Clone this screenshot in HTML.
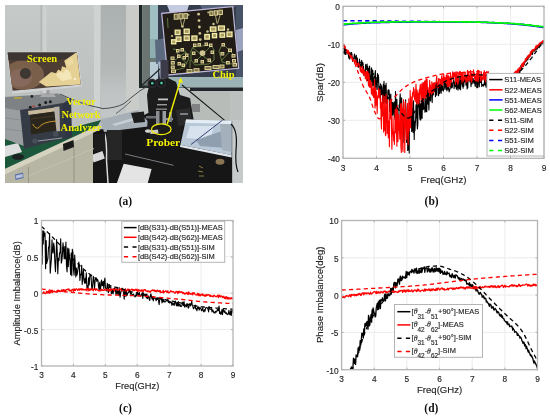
<!DOCTYPE html>
<html><head><meta charset="utf-8"><title>Figure</title>
<style>
html,body{margin:0;padding:0;background:#fff;}
body{width:550px;height:417px;overflow:hidden;position:relative;}
svg{position:absolute;left:0;top:0;display:block;}
</style></head><body>
<svg width="550" height="417" viewBox="0 0 550 417">
<defs>
<clipPath id="ph"><rect x="5" y="5" width="238" height="178"/></clipPath>
<filter id="bl" x="0" y="0" width="1" height="1"><feGaussianBlur stdDeviation="0.4"/></filter>
<linearGradient id="wallg" x1="0" y1="0" x2="0" y2="1"><stop offset="0" stop-color="#c5c9c8"/><stop offset="1" stop-color="#bcc0bf"/></linearGradient>
<linearGradient id="colg" x1="0" y1="0" x2="0" y2="1"><stop offset="0" stop-color="#abb1b0"/><stop offset="0.55" stop-color="#b3b8b7"/><stop offset="0.8" stop-color="#c0c4c4"/><stop offset="1" stop-color="#c2c6c6"/></linearGradient>
<linearGradient id="glass" x1="0" y1="0" x2="1" y2="0"><stop offset="0" stop-color="#c6d4e2"/><stop offset="0.55" stop-color="#dfe7ef"/><stop offset="1" stop-color="#a9b8c4"/></linearGradient>
</defs>
<g clip-path="url(#ph)">
<g filter="url(#bl)">
<!-- wall -->
<rect x="5" y="5" width="238" height="178" fill="#bcc0bf"/>
<rect x="5" y="5" width="96" height="100" fill="url(#wallg)"/>
<rect x="40.5" y="5" width="2" height="95" fill="#b1b5b4"/>
<rect x="42.5" y="5" width="4" height="95" fill="#cdd1d0"/>
<rect x="94" y="5" width="6" height="105" fill="#cfd3d2"/>
<rect x="101" y="5" width="25" height="112" fill="url(#colg)"/>
<rect x="126" y="5" width="13.5" height="112" fill="#caccca"/>
<!-- window -->
<rect x="139" y="5" width="3.2" height="84" fill="#1f2526"/>
<rect x="142.2" y="5" width="8" height="82" fill="#6b7572"/>
<rect x="150" y="5" width="12" height="34" fill="#9fbfc3"/>
<rect x="150" y="39" width="12" height="19" fill="#8dafaf"/>
<rect x="150" y="58" width="12" height="4" fill="#6a7876"/>
<rect x="150" y="62" width="12" height="17" fill="#b8cad4"/>
<rect x="139" y="85.5" width="22" height="2.5" fill="#23292a"/>
<!-- dark area behind chip -->
<rect x="158" y="5" width="85" height="76" fill="#353d4d"/>
<path d="M167 5 L189 5 L187 11 L170 12.8 Z" fill="#c4cbe0"/>
<path d="M200 5 L236 5 L234 8 L202 9 Z" fill="#59627a"/>
<rect x="236" y="5" width="7" height="82" fill="#4a5268"/>
<path d="M236 30 L243 28 L243 50 L237 52 Z" fill="#9aa2be"/>
<path d="M155 40 L166 38 L168 62 L156 64 Z" fill="#5c6a80"/>
<path d="M158 62 L168 60 L169 76 L160 78 Z" fill="#a8b6c8"/>
<!-- sill -->
<rect x="160" y="77" width="83" height="10.5" fill="#9bb3b5"/>
<rect x="158" y="87.5" width="85" height="3.5" fill="#22272b"/>
<rect x="190" y="91" width="53" height="30" fill="#b8bcb8"/>
<rect x="230" y="91" width="13" height="30" fill="#bcc0bf"/>
<rect x="232" y="121" width="11" height="62" fill="#c4c8c8"/>
<!-- middle wall below window -->
<rect x="139" y="88" width="51" height="30" fill="#c2c6c5"/>
<path d="M60 94 Q80 104 103 108.6 Q116 108 124 103.6 L132 97 Q140 90 148 86" stroke="#3a3e40" stroke-width="0.9" fill="none"/>
<path d="M116 113.6 Q124 108 131 101" stroke="#4a4e50" stroke-width="0.8" fill="none"/>
<!-- chip -->
<g transform="translate(161.7 13.4) rotate(-5.5)">
<rect x="0" y="0" width="71.3" height="61.9" fill="#201f18" stroke="#c0b8d8" stroke-width="1.2"/>
</g>
<g stroke="#6f8a45" stroke-width="0.8" fill="none">
<path d="M173 49 L185 51 L189 58 L184 68 L176 70 M175 60 L186 52 M176 52 L187 64"/>
<path d="M193 47 L211 45 L214 50 L214 60 L209 64 L195 65 L191 60 L191 51 Z M193 48 L212 63 M194 63 L211 46"/>
<path d="M222 45 L219 51 L222 62 L232 64 M224 45 L233 54 M222 60 L232 49"/>
<path d="M167.5 18 L168 28 M190 60 L190 68"/>
</g>
<g fill="#7a7048" stroke="#dccf94" stroke-width="1">
<rect x="174.2" y="14.2" width="3.8" height="5"/><rect x="179" y="13.8" width="3.8" height="5"/><rect x="183.8" y="13.6" width="3.6" height="4.8"/>
<rect x="209.8" y="11.2" width="3.2" height="4.3"/><rect x="214.3" y="10.8" width="3.2" height="4.3"/><rect x="218.8" y="10.2" width="3.6" height="4.3"/>
<rect x="171" y="57" width="3" height="2.6"/><rect x="171.3" y="61.5" width="3" height="2.6"/><rect x="171.3" y="66" width="3" height="2.6"/><rect x="171.5" y="70" width="4" height="2.4"/>
<rect x="176.5" y="49.5" width="2.5" height="2.5"/><rect x="181" y="48.5" width="2.5" height="2.5"/><rect x="177.5" y="55" width="2.5" height="2.5"/><rect x="183" y="56.5" width="2.5" height="2.5"/><rect x="178" y="62.5" width="2.5" height="2.5"/><rect x="182" y="64" width="2.5" height="2.5"/><rect x="185.5" y="54" width="2.5" height="2.5"/>
<rect x="187" y="69.5" width="5" height="3"/><rect x="194" y="68.7" width="5" height="3"/><rect x="205" y="66.5" width="6" height="3"/><rect x="213" y="65.5" width="6" height="3"/><rect x="220" y="65" width="4" height="3"/>
<rect x="193.5" y="44" width="2.5" height="2.5"/><rect x="198" y="43.5" width="2.5" height="2.5"/><rect x="205" y="43" width="2.5" height="2.5"/><rect x="209.5" y="44" width="2.5" height="2.5"/><rect x="192.5" y="52" width="2.5" height="2.5"/><rect x="211" y="51" width="2.5" height="2.5"/><rect x="195" y="59.5" width="2.5" height="2.5"/><rect x="201" y="60.5" width="2.5" height="2.5"/><rect x="208" y="59" width="2.5" height="2.5"/>
<rect x="222" y="43.5" width="2.5" height="2.5"/><rect x="221" y="52.5" width="2.8" height="2.5"/><rect x="228.5" y="49" width="3" height="2.5"/><rect x="232" y="54.5" width="3" height="2.6"/><rect x="232.5" y="59.5" width="3" height="2.6"/><rect x="233" y="63.5" width="3.5" height="2.6"/><rect x="226.5" y="61.5" width="2.8" height="2.5"/>
</g>
<g fill="#cfc390">
<circle cx="188.6" cy="14.8" r="0.9"/><circle cx="208.2" cy="12.4" r="0.9"/>
<circle cx="198.6" cy="14.2" r="1.4"/><circle cx="199" cy="20.6" r="1.4"/><circle cx="199.4" cy="27" r="1.4"/><circle cx="199.8" cy="33.4" r="1.4"/><circle cx="200.2" cy="39.6" r="1.4"/>
<circle cx="207.5" cy="31.5" r="1.2"/><circle cx="228" cy="29.5" r="1.2"/><circle cx="213.5" cy="24" r="1.2"/><circle cx="182.5" cy="26.5" r="1.2"/><circle cx="172" cy="36" r="1.1"/>
<circle cx="202.5" cy="53.1" r="2.9"/>
</g>
<g fill="#a89c62" stroke="#f4eca8" stroke-width="1.3">
<rect x="175.2" y="30.2" width="4.8" height="4.4"/><rect x="184.2" y="29.2" width="5" height="4.4"/><rect x="176.2" y="37" width="4.8" height="4.4"/><rect x="184.2" y="36" width="5" height="4.4"/><rect x="191.9" y="36" width="5" height="4.4"/><rect x="171.6" y="39.8" width="4.2" height="4"/>
<rect x="210.4" y="27" width="5.5" height="4.2"/><rect x="218.4" y="26" width="6" height="4.2"/><rect x="204.8" y="34.5" width="4.6" height="4.6"/><rect x="212.4" y="33.5" width="4.2" height="4.2"/><rect x="220" y="33" width="4.6" height="4.2"/><rect x="227" y="32" width="5" height="4.6"/>
</g>
<g stroke="#d0c48a" stroke-width="0.8" fill="none">
<path d="M180.5 19 L182 27 M185 18.5 L182.5 27 M215.5 15.5 L217 23.5 M220.2 14.6 L217.6 23.5"/>
</g>
<!-- microscope -->
<path d="M160.5 60 L168.5 60 L168.5 78 L160.5 78 Z" fill="#3c3a4a"/>
<path d="M141 86 L160 69" stroke="#1e2224" stroke-width="1.1"/>
<path d="M147 95 L149 86 L157 79 L168 78 L176 82 L180 95 L190 98 L195 128 L150 132 Z" fill="#1b1b1e"/>
<circle cx="152.2" cy="83.4" r="4.6" fill="#2c2c30"/><circle cx="152.2" cy="83.4" r="3.2" fill="#18181a"/>
<circle cx="161.4" cy="83.2" r="4.6" fill="#2c2c30"/><circle cx="161.4" cy="83.2" r="3.2" fill="#18181a"/>
<circle cx="152.3" cy="83.3" r="1.3" fill="#45d0a0"/>
<circle cx="161.5" cy="83.1" r="1.3" fill="#45d0a0"/>
<rect x="158" y="98.5" width="10" height="1.8" fill="#c8c8c8"/>
<rect x="157" y="104" width="10" height="1.4" fill="#9a9a9a"/>
<rect x="156" y="108.5" width="11" height="1.4" fill="#8a8a8a"/>
<rect x="192" y="104" width="8" height="8" fill="#808284"/>
<!-- cable diagonal -->
<path d="M182 85 L224.4 120.2 L207 134" stroke="#151515" stroke-width="1.1" fill="none"/>
<!-- prober lower body -->
<path d="M93 131 L128 124 L148 113 L186 119.5 L232.5 121 L232.5 183 L93 183 Z" fill="#131315"/>
<path d="M100 120 L138 110 L152 126 L104 132 Z" fill="#a6aeb6"/>
<path d="M112 124 L136 117 L139 119 L115 126 Z" fill="#c4ccd4"/>
<path d="M131 113 L144 111.5 L145 122 L134 123 Z" fill="#1b1b1d"/>
<path d="M148 113 L170 115 L184 121 L180 140 L150 142 L147 130 Z" fill="#1c1c1e"/>
<rect x="146" y="116" width="12" height="2.5" fill="#6a6f74"/>
<rect x="163" y="118" width="10" height="2.2" fill="#8a9098"/>
<ellipse cx="148" cy="131" rx="3" ry="1.8" fill="#d0d0d0"/>
<rect x="156" y="111" width="3.5" height="13" fill="#8a8e92"/>
<rect x="162.5" y="111" width="3.5" height="13" fill="#9a9ea2"/>
<rect x="169" y="112" width="3" height="10" fill="#7a7e84"/>
<path d="M150 130.5 L158 129.5 L158.5 133.5 L150.5 134 Z" fill="#c8c8c8"/>
<path d="M176 110 L190 108 L192 124 L178 126 Z" fill="#2a2a2c"/>
<rect x="180" y="113" width="8" height="2" fill="#7a7e84"/>
<!-- glass plate -->
<path d="M186 119.6 L231.6 120.8 L231.6 155 L180.4 144.7 Z" fill="#b9c8d6"/>
<path d="M186 119.6 L231.6 120.8 L231.4 124 L185.5 122.8 Z" fill="#e4ecf4"/>
<path d="M190 126 L214 126 L210 140 L186 138 Z" fill="#d8e2ee"/>
<path d="M196 140 L222 131 L226 148 L200 146 Z" fill="#8f9fb0"/>
<path d="M220 124 L231.5 124 L231.5 152 L222 150 Z" fill="#a4b0bc"/>
<path d="M180.4 144.7 L231.6 155 L231.6 157.5 L180 147 Z" fill="#dfe6ee"/>
<path d="M191 144.5 L222.3 120.3" stroke="#24306a" stroke-width="0.9"/>
<path d="M232.3 120 L243 120 L243 183 L232.3 183 Z" fill="#c6caca"/>
<path d="M231 124 Q238 130 236 150 Q235 165 238 172" stroke="#111" stroke-width="1.2" fill="none"/>
<ellipse cx="220" cy="161.7" rx="4.5" ry="3" fill="#8a7455"/>
<path d="M199 166 L203 168 M198 171 L203 172 M199 176 L204 176" stroke="#a89a50" stroke-width="0.8"/>
<!-- white paper / cylinder / cable -->
<path d="M123.7 163.8 L151.6 169 L147.8 183 L116.9 183 Z" fill="#e4e4e4"/>
<path d="M125 154 L173.5 165.3" stroke="#7a7e82" stroke-width="1"/>
<rect x="107" y="130" width="15" height="30" fill="#262628"/>
<path d="M104.5 133 Q107 140 106.5 160 L108 183" stroke="#dadada" stroke-width="1.5" fill="none"/>
<path d="M91.5 155 L102.5 151 L104.8 158.5 L93.5 162.5 Z" fill="#d8d8d8"/>
<!-- left cabinet / bench -->
<path d="M5 172 L93 131 L93 183 L5 183 Z" fill="#b7b5a3"/>
<path d="M5 168.8 L98 125.5 L98 130.5 L5 174.5 Z" fill="#d6d2c0"/>
<path d="M28.5 167 L28.5 183 M74 147 L74 183" stroke="#8e8c7c" stroke-width="0.8"/>
<path d="M28.5 176 L100 146" stroke="#c2c0ae" stroke-width="1"/>
<path d="M63 144 L73.5 140 L74 147 L63.5 151 Z" fill="#1a1a1a"/>
<path d="M15 174.5 L23 172.5 L23.5 178 L15.5 180 Z" fill="#5a70a8"/>
<path d="M16 175.5 L22.5 174 L22.7 177 L16.2 178.5 Z" fill="#b8c4e0"/>
<path d="M93.5 133.8 L105 133 L105 151 L94 151 Z" fill="#1a1a1a"/>
<!-- green mat -->
<path d="M5 137 L60 131 L101 120 L98 125.5 L5 168.8 Z" fill="#1f573a"/>
<path d="M5 146 L18 143 L22 152 L5 157 Z" fill="#dedede"/>
<ellipse cx="18" cy="156.8" rx="6" ry="3" fill="#1e2022"/>
<!-- VNA -->
<path d="M58 99 L71 98 L72 137 L60 140 Z" fill="#2d3444"/>
<path d="M5 97 L58 93.5 L70 99 L62 104 L22 111 L5 110 Z" fill="#7e8285"/>
<path d="M5 108 L22 111 L24 146 L5 139 Z" fill="#9a9ea0"/>
<path d="M5 118 L21 120 M5 129 L22 131" stroke="#80868a" stroke-width="0.7"/>
<path d="M20 110 L63 103 L65 138 L24 149 Z" fill="#353b45"/>
<path d="M28 111 L55.7 107.5 L56 111.5 L28.5 115 Z" fill="#c8b89c"/>
<path d="M30 115 L54 111.5 L56.5 130.5 L31 134.5 Z" fill="#2b251e"/>
<path d="M54 107 L59.5 106.5 L60 131 L56.5 131.5 Z" fill="#b4b0a6"/>
<path d="M32.6 124 Q36 130 39 127.5 Q42 122 56 121" stroke="#d8a030" stroke-width="0.9" fill="none"/>
<path d="M31 119 L54 116" stroke="#5a4a30" stroke-width="0.5"/>
<circle cx="31.9" cy="96.4" r="1.3" fill="#1a1a1a"/>
<circle cx="30.3" cy="107.2" r="1.5" fill="#1a1a1a"/><circle cx="39.6" cy="104.9" r="1.5" fill="#1a1a1a"/><circle cx="45.7" cy="102.6" r="1.5" fill="#1a1a1a"/><circle cx="50.3" cy="101.8" r="1.5" fill="#1a1a1a"/>
<rect x="32.3" y="105.6" width="2.6" height="1.6" fill="#b04040"/>
<circle cx="35" cy="141" r="2.6" fill="#4a5058"/>
<circle cx="55.7" cy="134" r="2.6" fill="#4a5058"/>
<path d="M38 141 L62 138" stroke="#b0b8c0" stroke-width="0.8"/>
<rect x="14.2" y="97" width="7.7" height="1.8" fill="#b0a040"/>
<!-- monitor -->
<path d="M43 93 L53 93 L56 97 L40 97 Z" fill="#a8aaac"/>
<rect x="46.5" y="89" width="3" height="6" fill="#9a9c9e"/>
<path d="M6.5 51.5 L77.7 51.5 L82.1 86.5 L12.3 93.7 Z" fill="#cfd1d3"/>
<path d="M7.6 52.6 L76.8 52.6 L80.8 84.6 L12.6 90.8 Z" fill="#4d3e33"/>
<clipPath id="scr"><path d="M7.6 52.6 L76.8 52.6 L80.8 84.6 L12.6 90.8 Z"/></clipPath>
<g clip-path="url(#scr)"><ellipse cx="24" cy="75" rx="20" ry="15" fill="#7a5e4c"/><ellipse cx="20" cy="78" rx="12" ry="9" fill="#86695a"/><path d="M7 52 L78 52 L78 58 Q40 62 7 60 Z" fill="#3e3430"/></g>
<circle cx="25.4" cy="73.4" r="5.5" fill="#3d3733"/>
<path d="M38.8 81.9 L51.2 72.1 L56 73.2 L58.2 69.4 L60.9 71 L62 66.2 L66.3 67.8 L64.2 60.8 L75 53.2 L76.8 52.6 L80.7 84.5 L46 86.6 Z" fill="#e6d194"/>
<path d="M56 75 L60 71.5 L63 73 L66 69 L70 72 L72 79 L62 81 Z" fill="#f3e6b8"/>
<path d="M66 62 L72 57 L74 63 L69 66 Z" fill="#ecd9a0"/>
<circle cx="75" cy="79" r="1.3" fill="#f6eed0"/>
</g>
<!-- annotations -->
<g fill="none" stroke="#f4f000">
<ellipse cx="161.3" cy="129.2" rx="9.8" ry="5.4" stroke-width="1.2"/>
<path d="M167.2 124.2 L180.3 80.5" stroke-width="1.4"/>
</g>
<path d="M180.9 77.5 L183 83 L178.2 81.6 Z" fill="#f4f000"/>
<g font-family="'Liberation Serif', 'Times New Roman', serif" font-weight="bold" fill="#f2f000" font-size="10.5">
<text x="42.1" y="61.7" text-anchor="middle">Screen</text>
<text x="81" y="105.3" text-anchor="middle">Vector</text>
<text x="81" y="118.1" text-anchor="middle">Network</text>
<text x="81" y="130.6" text-anchor="middle">Analyzer</text>
<text x="223.5" y="77.6" text-anchor="middle">Chip</text>
<text x="163.2" y="145.5" text-anchor="middle" font-size="11.4">Prober</text>
</g>
</g>

<g font-family="'Liberation Sans', Arial, Helvetica, sans-serif" font-size="8.3" fill="#262626" stroke="#262626" stroke-width="0.15">
<path d="M376.5 6.3V158.3M410 6.3V158.3M443.5 6.3V158.3M477 6.3V158.3M510.5 6.3V158.3M343 44.3H544M343 82.3H544M343 120.3H544" stroke="#ececec" stroke-width="1" fill="none"/>
<clipPath id="cb"><rect x="343" y="6.3" width="201" height="152"/></clipPath>
<g clip-path="url(#cb)">
<polyline points="343,51.6 343.4,53.2 343.7,52.8 344.1,50.1 344.4,50.6 344.8,54.1 345.2,49.3 345.5,54.3 345.9,54.5 346.2,52.7 346.6,51.8 347,51.8 347.3,51.9 347.7,53.4 348,54.1 348.4,54.7 348.8,58.3 349.1,57 349.5,56 349.8,59.2 350.2,53.3 350.6,53 350.9,57.1 351.3,52.5 351.6,52.6 352,57.1 352.3,56.9 352.7,61.4 353.1,59 353.4,58.2 353.8,58.4 354.1,56.2 354.5,54.1 354.9,56.2 355.2,61.7 355.6,56.9 355.9,59 356.3,55.3 356.7,64.8 357,57.6 357.4,59.2 357.7,66.7 358.1,62.7 358.5,67.1 358.8,65.1 359.2,66.7 359.5,59 359.9,65 360.3,65 360.6,70.1 361,63.8 361.3,67.3 361.7,60.3 362.1,65.1 362.4,64.6 362.8,62.4 363.1,72.3 363.5,66.3 363.9,75.6 364.2,70.1 364.6,70.7 364.9,71.6 365.3,72.6 365.7,64.2 366,69.4 366.4,66.2 366.7,69.3 367.1,64 367.5,80.6 367.8,66.6 368.2,75.8 368.5,68.8 368.9,80.6 369.2,76.7 369.6,66.1 370,81.2 370.3,83.6 370.7,83.2 371,76.6 371.4,67.9 371.8,69.3 372.1,85.6 372.5,78 372.8,70.4 373.2,86.2 373.6,81.4 373.9,80.3 374.3,76.6 374.6,77.9 375,74.6 375.4,70.6 375.7,89.9 376.1,81.4 376.4,83.7 376.8,79.2 377.2,89.5 377.5,73.6 377.9,82 378.2,74.8 378.6,77.4 379,97.4 379.3,90.8 379.7,86.1 380,88.8 380.4,97.5 380.8,85.7 381.1,92 381.5,94.7 381.8,87.4 382.2,91.8 382.6,98.1 382.9,102.1 383.3,84.2 383.6,103.6 384,81.3 384.4,100.1 384.7,101.9 385.1,85.5 385.4,93 385.8,103.3 386.1,83.4 386.5,99.4 386.9,104.1 387.2,97.2 387.6,103.2 387.9,90.4 388.3,89.9 388.7,94.7 389,90 389.4,94.9 389.7,111.8 390.1,101.9 390.5,95.7 390.8,94.1 391.2,113.9 391.5,99.7 391.9,115.8 392.3,102.6 392.6,103.1 393,114.9 393.3,110.7 393.7,106.2 394.1,101.9 394.4,116.6 394.8,102.2 395.1,119.5 395.5,91.6 395.9,104.2 396.2,107.8 396.6,123.7 396.9,99.2 397.3,120.2 397.7,116 398,118.3 398.4,115.6 398.7,130.1 399.1,104.8 399.5,108 399.8,100.2 400.2,93.9 400.5,101.3 400.9,133.4 401.3,130.8 401.6,97.8 402,121.3 402.3,115.9 402.7,122.1 403,125.8 403.4,109 403.8,142.3 404.1,118.1 404.5,127.1 404.8,128.3 405.2,105.6 405.6,99.8 405.9,119 406.3,138.7 406.6,142.5 407,138.7 407.4,105.4 407.7,150.5 408.1,145 408.4,149.9 408.8,130.4 409.2,153.1 409.5,103.9 409.9,103 410.2,102.4 410.6,115.5 411,115.1 411.3,111.4 411.7,131.5 412,102.8 412.4,130.7 412.8,108.6 413.1,132.5 413.5,100.9 413.8,113.4 414.2,139.4 414.6,121.2 414.9,130.8 415.3,123.6 415.6,120.7 416,104.8 416.4,117.7 416.7,98.8 417.1,124.3 417.4,128.9 417.8,124.8 418.2,98 418.5,106.9 418.9,105.8 419.2,98.9 419.6,114.6 419.9,119.3 420.3,103.9 420.7,120.1 421,117.5 421.4,97 421.7,115.5 422.1,118.4 422.5,97.8 422.8,108.3 423.2,109.6 423.5,108.3 423.9,93.2 424.3,108.8 424.6,107.5 425,112.3 425.3,111.3 425.7,97.8 426.1,108.1 426.4,111.5 426.8,111.7 427.1,92 427.5,88.2 427.9,104 428.2,92.4 428.6,100.9 428.9,110 429.3,95.5 429.7,92.1 430,96.6 430.4,101 430.7,87.5 431.1,93.7 431.5,87.7 431.8,99.3 432.2,102.6 432.5,92.1 432.9,91.7 433.3,94.9 433.6,87.7 434,88.1 434.3,89.4 434.7,91.7 435.1,83.9 435.4,96.7 435.8,93 436.1,87.3 436.5,82.9 436.8,95.2 437.2,83.4 437.6,83.2 437.9,83 438.3,81.9 438.6,95.8 439,84.7 439.4,85.1 439.7,93.5 440.1,89.8 440.4,82.5 440.8,86.3 441.2,93.2 441.5,85 441.9,90 442.2,80.4 442.6,89.9 443,90.5 443.3,91.1 443.7,88.7 444,84 444.4,79.3 444.8,86 445.1,89.5 445.5,80.9 445.8,81.9 446.2,85.9 446.6,88.9 446.9,91 447.3,79.5 447.6,80.3 448,89.3 448.4,86.9 448.7,88 449.1,91.9 449.4,91 449.8,89.5 450.2,88.5 450.5,82.8 450.9,86.3 451.2,79.6 451.6,87.9 451.9,87.8 452.3,87.2 452.7,83.2 453,82.1 453.4,82.7 453.7,77.1 454.1,88.7 454.5,84.3 454.8,82 455.2,84.2 455.5,86.7 455.9,81.8 456.3,88.1 456.6,89.3 457,81.7 457.3,78.1 457.7,86.9 458.1,90.1 458.4,78.1 458.8,86.1 459.1,87.6 459.5,88.9 459.9,77.6 460.2,77.1 460.6,89.7 460.9,77.4 461.3,78.2 461.7,83.7 462,81.9 462.4,86.1 462.7,78.3 463.1,88.3 463.5,78.6 463.8,86.2 464.2,76.4 464.5,82 464.9,75.8 465.3,79.7 465.6,79.6 466,85.2 466.3,81.5 466.7,76 467.1,88.9 467.4,87.4 467.8,87.7 468.1,78.5 468.5,80.5 468.8,78.2 469.2,76.7 469.6,75.5 469.9,81.8 470.3,76.6 470.6,77.3 471,86.6 471.4,81.5 471.7,77.4 472.1,83.9 472.4,78.4 472.8,81.9 473.2,78.6 473.5,81.7 473.9,83.2 474.2,82 474.6,80.1 475,85.3 475.3,86.4 475.7,77.1 476,76.5 476.4,76.2 476.8,87.7 477.1,87.2 477.5,77.8 477.8,87.6 478.2,77.5 478.6,81.4 478.9,81.3 479.3,86.8 479.6,75.4 480,79 480.4,82.7 480.7,75.8 481.1,78.1 481.4,81 481.8,86.4 482.2,84.9 482.5,85.8 482.9,85 483.2,84.3 483.6,86.1 484,84 484.3,84.8 484.7,79.3 485,77.7 485.4,85.1 485.7,77.8 486.1,87.2 486.5,83.3 486.8,80 487.2,87.5 487.5,78 487.9,82.4 488.3,77.3 488.6,87.9 489,83.3 489.3,86 489.7,79.8 490.1,86 490.4,84.9 490.8,84.2 491.1,87.8 491.5,81.8 491.9,81.6 492.2,84.9 492.6,86.5 492.9,80.8 493.3,84.6 493.7,79.4 494,83.3 494.4,85.7 494.7,77.8 495.1,85.3 495.5,77.3 495.8,87.8 496.2,82.4 496.5,81.7 496.9,85.2 497.3,83 497.6,85.3 498,78.2 498.3,83.4 498.7,83.4 499.1,87.5 499.4,77.8 499.8,82.3 500.1,84.2 500.5,83.3 500.9,78.2 501.2,83.8 501.6,79.8 501.9,79.6 502.3,86.8 502.6,79.6 503,82.3 503.4,85.4 503.7,84.9 504.1,83.3 504.4,85.9 504.8,82.4 505.2,84 505.5,86 505.9,84.6 506.2,84.2 506.6,81.8 507,83.3 507.3,81.7 507.7,85.1 508,81.5 508.4,82.3 508.8,85.1 509.1,82.6 509.5,81 509.8,85.7 510.2,81.4 510.6,85.8 510.9,85.1 511.3,81.7 511.6,84 512,77.4 512.4,80.3 512.7,84.1 513.1,81.1 513.4,80.4 513.8,80.8 514.2,80.3 514.5,78.9 514.9,77 515.2,74.4 515.6,74.7 516,74.2 516.3,74.7 516.7,78.6 517,73 517.4,73.3 517.8,72.2 518.1,73.3 518.5,75.4 518.8,74.4 519.2,70.2 519.5,68.9 519.9,72.6 520.3,69.3 520.6,70 521,65.4 521.3,70 521.7,65.9 522.1,66.5 522.4,64.1 522.8,64.9 523.1,66.8 523.5,66.2 523.9,63.5 524.2,64.7 524.6,62.4 524.9,61.4 525.3,61.8 525.7,59.4 526,59.6 526.4,61.1 526.7,60.9 527.1,56.9 527.5,59.8 527.8,59.8 528.2,57.5 528.5,55.3 528.9,57.8 529.3,55.3 529.6,56.7 530,55.1 530.3,55.8 530.7,53.8 531.1,54.3 531.4,54.1 531.8,54.1 532.1,52 532.5,54.5 532.9,51.5 533.2,51.2 533.6,50.6 533.9,49.6 534.3,50.5 534.7,51.3 535,50.7 535.4,48.6 535.7,48 536.1,48.3 536.4,49.3 536.8,48.1 537.2,49 537.5,47.8 537.9,47.4 538.2,47.4 538.6,47 539,45.6 539.3,45.1 539.7,45.2 540,45 540.4,43.9 540.8,44.3 541.1,44.4 541.5,43 541.8,42.7 542.2,42.5 542.6,42.5 542.9,43.6 543.3,41.4 543.6,41.5 544,41.2" fill="none" stroke="#000" stroke-width="1.1" stroke-linejoin="round"/>
<polyline points="343,45.9 343.4,44.8 343.7,46.7 344.1,46.2 344.4,47 344.8,49.2 345.2,47.5 345.5,49.5 345.9,49.3 346.2,49.7 346.6,51.7 347,49.6 347.3,53 347.7,53.4 348,53 348.4,50.8 348.8,54 349.1,54.2 349.5,55.4 349.8,53.3 350.2,57.2 350.6,57.4 350.9,54 351.3,55.5 351.6,54.4 352,59.1 352.3,60 352.7,60.9 353.1,59.4 353.4,60.2 353.8,60.7 354.1,60.6 354.5,63.2 354.9,61.7 355.2,60.5 355.6,62.1 355.9,59.2 356.3,64.3 356.7,64.6 357,63.4 357.4,66.6 357.7,66.5 358.1,64.2 358.5,62.7 358.8,63.5 359.2,64.4 359.5,65.7 359.9,67.2 360.3,71.2 360.6,66.8 361,72 361.3,70.9 361.7,72.7 362.1,69.6 362.4,66.3 362.8,73.7 363.1,69.5 363.5,68.9 363.9,75.3 364.2,74.8 364.6,70.7 364.9,71.7 365.3,79 365.7,72.6 366,78 366.4,71.6 366.7,80.9 367.1,72.2 367.5,78.5 367.8,71.4 368.2,80.5 368.5,85.9 368.9,73.4 369.2,77.6 369.6,87.3 370,85.3 370.3,80.2 370.7,87.4 371,84.6 371.4,94.1 371.8,82.4 372.1,93.9 372.5,92.1 372.8,95.6 373.2,87.5 373.6,97.3 373.9,97.6 374.3,90.2 374.6,79.7 375,108.1 375.4,102.3 375.7,87.7 376.1,105.2 376.4,91.7 376.8,99.1 377.2,113.2 377.5,100.4 377.9,95.5 378.2,97 378.6,88.2 379,95.1 379.3,98 379.7,94.4 380,89.9 380.4,108.3 380.8,98.1 381.1,120.9 381.5,129 381.8,102.6 382.2,116.3 382.6,114.1 382.9,94.7 383.3,97.7 383.6,132.1 384,115 384.4,130.1 384.7,96.3 385.1,122.2 385.4,134.9 385.8,135.7 386.1,94.1 386.5,121.2 386.9,114.4 387.2,133.5 387.6,99.5 387.9,110.4 388.3,137.7 388.7,121.5 389,121.1 389.4,146.7 389.7,114.6 390.1,98.7 390.5,118.8 390.8,105.7 391.2,101.4 391.5,128.9 391.9,149.2 392.3,130.2 392.6,134.2 393,116.5 393.3,130.7 393.7,140.9 394.1,132.3 394.4,144.4 394.8,130.6 395.1,109.6 395.5,132.8 395.9,127.6 396.2,107.7 396.6,135.1 396.9,146.3 397.3,105.6 397.7,130.8 398,141.6 398.4,122.5 398.7,114.4 399.1,120.7 399.5,130.7 399.8,139.1 400.2,131.8 400.5,103.9 400.9,146.5 401.3,152.4 401.6,103.6 402,113.3 402.3,108.5 402.7,148.4 403,151.8 403.4,99.6 403.8,118.5 404.1,109.8 404.5,126.8 404.8,152.5 405.2,101.5 405.6,108.2 405.9,126.9 406.3,128.3 406.6,139.4 407,121.4 407.4,103.4 407.7,114.6 408.1,144.7 408.4,131.9 408.8,98.8 409.2,131.1 409.5,107 409.9,126.9 410.2,90.5 410.6,127.7 411,96.9 411.3,108.5 411.7,115.2 412,108.1 412.4,94 412.8,92.2 413.1,96.9 413.5,87.5 413.8,93 414.2,89.4 414.6,99.6 414.9,95.6 415.3,101.8 415.6,92.4 416,84.1 416.4,93 416.7,103.9 417.1,90.1 417.4,93.8 417.8,102.3 418.2,93.1 418.5,104.5 418.9,104.8 419.2,89.7 419.6,99.6 419.9,87.6 420.3,84.4 420.7,91.6 421,95.1 421.4,102.1 421.7,83.8 422.1,96.6 422.5,91.1 422.8,82.8 423.2,100.9 423.5,94.9 423.9,82.2 424.3,98.5 424.6,81.3 425,80.8 425.3,86 425.7,97.9 426.1,78.9 426.4,96.9 426.8,90.8 427.1,79.3 427.5,89.5 427.9,87.2 428.2,89 428.6,92 428.9,90.7 429.3,96.1 429.7,80.4 430,92.4 430.4,85 430.7,91.5 431.1,93.1 431.5,94.5 431.8,81.7 432.2,84.9 432.5,93 432.9,92.9 433.3,83 433.6,92.3 434,83.3 434.3,82.6 434.7,88.8 435.1,83.9 435.4,83.4 435.8,82.2 436.1,82.8 436.5,77.6 436.8,76 437.2,87.5 437.6,84.4 437.9,85.9 438.3,87.7 438.6,78.5 439,78.5 439.4,79.1 439.7,79.4 440.1,86.3 440.4,80.3 440.8,79.4 441.2,84.1 441.5,77 441.9,75.6 442.2,84.6 442.6,85.3 443,78.4 443.3,83.3 443.7,73.9 444,79.8 444.4,82.2 444.8,77.3 445.1,78.7 445.5,82.4 445.8,82 446.2,75.5 446.6,83.4 446.9,74.1 447.3,86.8 447.6,76 448,76.7 448.4,75.8 448.7,86.6 449.1,76.9 449.4,81.4 449.8,86.3 450.2,85.7 450.5,72.9 450.9,79.9 451.2,80.9 451.6,82.2 451.9,77.1 452.3,77 452.7,71.9 453,72.4 453.4,79.8 453.7,73 454.1,74.9 454.5,76.7 454.8,72.8 455.2,72.1 455.5,84.2 455.9,77.8 456.3,74.6 456.6,81.3 457,71.5 457.3,75 457.7,84.2 458.1,83.4 458.4,80 458.8,72.6 459.1,75.8 459.5,71.5 459.9,74.3 460.2,71.4 460.6,72.9 460.9,79.6 461.3,72.5 461.7,73.2 462,82.7 462.4,75.6 462.7,75.5 463.1,72 463.5,81.2 463.8,79.7 464.2,78 464.5,78.9 464.9,72 465.3,74.2 465.6,78.3 466,82.7 466.3,81 466.7,78.8 467.1,77.3 467.4,70.3 467.8,81.7 468.1,71.1 468.5,72 468.8,79.2 469.2,80.6 469.6,80.2 469.9,76.1 470.3,72.4 470.6,70.3 471,80.8 471.4,82.2 471.7,73.2 472.1,80.8 472.4,75.2 472.8,74 473.2,76.4 473.5,69.7 473.9,75.6 474.2,72.4 474.6,78.8 475,76.2 475.3,80.5 475.7,80.8 476,73.9 476.4,73.4 476.8,81.2 477.1,76.1 477.5,70.9 477.8,70.2 478.2,81.7 478.6,77 478.9,70.4 479.3,76.2 479.6,76.2 480,75.4 480.4,81.3 480.7,81.3 481.1,71.6 481.4,72 481.8,75.2 482.2,80.1 482.5,77.7 482.9,79 483.2,77.3 483.6,73 484,80 484.3,70.5 484.7,78.8 485,73.1 485.4,76.4 485.7,81.9 486.1,77.3 486.5,71.6 486.8,76.2 487.2,78.8 487.5,71.9 487.9,74.4 488.3,71.6 488.6,77.9 489,76.3 489.3,77.8 489.7,75.7 490.1,79.7 490.4,74.6 490.8,82.7 491.1,83.4 491.5,78.8 491.9,78.7 492.2,82.9 492.6,77.1 492.9,82.7 493.3,77.5 493.7,82.2 494,78.4 494.4,81.4 494.7,84.8 495.1,75.6 495.5,83.9 495.8,81.3 496.2,79.7 496.5,79.5 496.9,76.4 497.3,78.6 497.6,82.5 498,76.9 498.3,83 498.7,85.9 499.1,86.1 499.4,85.2 499.8,84.5 500.1,78.2 500.5,86.1 500.9,78.5 501.2,85.1 501.6,85.2 501.9,82.8 502.3,81.9 502.6,78.7 503,81.9 503.4,79.7 503.7,78 504.1,78 504.4,84.6 504.8,85.6 505.2,78.2 505.5,76.8 505.9,79.5 506.2,78.2 506.6,78.7 507,82.5 507.3,81 507.7,81 508,78.7 508.4,82.8 508.8,79.2 509.1,80.1 509.5,80.4 509.8,83.9 510.2,77.9 510.6,81.8 510.9,78 511.3,82.6 511.6,78.1 512,78.8 512.4,81.5 512.7,79.6 513.1,74.3 513.4,74.3 513.8,81 514.2,72.6 514.5,74.7 514.9,79.4 515.2,71.3 515.6,72.2 516,72.3 516.3,70.7 516.7,73.4 517,73.8 517.4,71.2 517.8,69.1 518.1,73.8 518.5,73.2 518.8,71 519.2,67.4 519.5,69.8 519.9,69.9 520.3,68 520.6,70.3 521,66.8 521.3,67 521.7,63.8 522.1,66.2 522.4,66.8 522.8,66 523.1,62.5 523.5,66.1 523.9,64 524.2,61.8 524.6,61.1 524.9,62.5 525.3,58.6 525.7,60.6 526,60.4 526.4,58.8 526.7,60 527.1,57.6 527.5,57.2 527.8,55.8 528.2,58.3 528.5,55.1 528.9,56.4 529.3,54.7 529.6,56.4 530,56 530.3,51.7 530.7,55.2 531.1,53.3 531.4,50.7 531.8,52 532.1,49.8 532.5,51.4 532.9,49.6 533.2,49.9 533.6,49.3 533.9,49.9 534.3,50.2 534.7,50.2 535,47.9 535.4,48.3 535.7,46 536.1,46.9 536.4,48.2 536.8,45.4 537.2,47.2 537.5,46.3 537.9,45 538.2,45.9 538.6,44.3 539,45.5 539.3,43.1 539.7,43 540,44.2 540.4,43.2 540.8,42.2 541.1,42.8 541.5,42 541.8,42.3 542.2,42.4 542.6,42.4 542.9,40.5 543.3,41.4 543.6,41.9 544,40.7" fill="none" stroke="#ff0000" stroke-width="1.1" stroke-linejoin="round"/>
<polyline points="343,24.9 343.4,24.9 343.7,24.8 344.1,24.8 344.4,24.8 344.8,24.7 345.2,24.7 345.5,24.6 345.9,24.6 346.2,24.6 346.6,24.5 347,24.5 347.3,24.4 347.7,24.4 348,24.4 348.4,24.3 348.8,24.3 349.1,24.3 349.5,24.2 349.8,24.2 350.2,24.2 350.6,24.1 350.9,24.1 351.3,24.1 351.6,24 352,24 352.3,24 352.7,23.9 353.1,23.9 353.4,23.9 353.8,23.8 354.1,23.8 354.5,23.8 354.9,23.7 355.2,23.7 355.6,23.7 355.9,23.7 356.3,23.6 356.7,23.6 357,23.6 357.4,23.6 357.7,23.5 358.1,23.5 358.5,23.5 358.8,23.5 359.2,23.4 359.5,23.4 359.9,23.4 360.3,23.4 360.6,23.3 361,23.3 361.3,23.3 361.7,23.3 362.1,23.3 362.4,23.2 362.8,23.2 363.1,23.2 363.5,23.2 363.9,23.2 364.2,23.1 364.6,23.1 364.9,23.1 365.3,23.1 365.7,23.1 366,23.1 366.4,23 366.7,23 367.1,23 367.5,23 367.8,23 368.2,22.9 368.5,22.9 368.9,22.9 369.2,22.9 369.6,22.9 370,22.9 370.3,22.9 370.7,22.8 371,22.8 371.4,22.8 371.8,22.8 372.1,22.8 372.5,22.8 372.8,22.8 373.2,22.7 373.6,22.7 373.9,22.7 374.3,22.7 374.6,22.7 375,22.7 375.4,22.7 375.7,22.7 376.1,22.7 376.4,22.6 376.8,22.6 377.2,22.6 377.5,22.6 377.9,22.6 378.2,22.6 378.6,22.6 379,22.6 379.3,22.6 379.7,22.6 380,22.6 380.4,22.5 380.8,22.5 381.1,22.5 381.5,22.5 381.8,22.5 382.2,22.5 382.6,22.5 382.9,22.5 383.3,22.5 383.6,22.5 384,22.5 384.4,22.5 384.7,22.4 385.1,22.4 385.4,22.4 385.8,22.4 386.1,22.4 386.5,22.4 386.9,22.4 387.2,22.4 387.6,22.4 387.9,22.4 388.3,22.4 388.7,22.4 389,22.4 389.4,22.4 389.7,22.3 390.1,22.3 390.5,22.3 390.8,22.3 391.2,22.3 391.5,22.3 391.9,22.3 392.3,22.3 392.6,22.3 393,22.3 393.3,22.3 393.7,22.3 394.1,22.3 394.4,22.3 394.8,22.3 395.1,22.3 395.5,22.2 395.9,22.2 396.2,22.2 396.6,22.2 396.9,22.2 397.3,22.2 397.7,22.2 398,22.2 398.4,22.2 398.7,22.2 399.1,22.2 399.5,22.2 399.8,22.2 400.2,22.2 400.5,22.2 400.9,22.2 401.3,22.2 401.6,22.2 402,22.2 402.3,22.1 402.7,22.1 403,22.1 403.4,22.1 403.8,22.1 404.1,22.1 404.5,22.1 404.8,22.1 405.2,22.1 405.6,22.1 405.9,22.1 406.3,22.1 406.6,22.1 407,22.1 407.4,22.1 407.7,22.1 408.1,22.1 408.4,22.1 408.8,22.1 409.2,22.1 409.5,22.1 409.9,22.1 410.2,22.1 410.6,22.1 411,22.1 411.3,22.1 411.7,22.1 412,22.1 412.4,22 412.8,22 413.1,22 413.5,22 413.8,22 414.2,22 414.6,22 414.9,22 415.3,22 415.6,22 416,22 416.4,22 416.7,22 417.1,22 417.4,22 417.8,22 418.2,22 418.5,22 418.9,22 419.2,22 419.6,22 419.9,22 420.3,22 420.7,22 421,22 421.4,22 421.7,22 422.1,22 422.5,22 422.8,22 423.2,22 423.5,22 423.9,22 424.3,22 424.6,22 425,22 425.3,21.9 425.7,21.9 426.1,21.9 426.4,21.9 426.8,21.9 427.1,21.9 427.5,21.9 427.9,21.9 428.2,21.9 428.6,21.9 428.9,21.9 429.3,21.9 429.7,21.9 430,21.9 430.4,21.9 430.7,21.9 431.1,21.9 431.5,21.9 431.8,21.9 432.2,21.9 432.5,21.9 432.9,21.9 433.3,21.9 433.6,21.9 434,21.9 434.3,21.9 434.7,21.9 435.1,21.9 435.4,21.9 435.8,21.9 436.1,21.9 436.5,21.9 436.8,21.9 437.2,21.9 437.6,21.9 437.9,21.9 438.3,21.9 438.6,21.9 439,21.9 439.4,21.9 439.7,21.9 440.1,21.9 440.4,21.9 440.8,21.9 441.2,21.9 441.5,21.9 441.9,21.9 442.2,21.9 442.6,21.9 443,21.9 443.3,21.9 443.7,21.9 444,21.9 444.4,21.9 444.8,21.9 445.1,21.9 445.5,21.9 445.8,21.9 446.2,21.9 446.6,21.9 446.9,21.9 447.3,21.9 447.6,21.9 448,21.9 448.4,21.9 448.7,21.9 449.1,21.9 449.4,21.9 449.8,21.9 450.2,21.9 450.5,21.9 450.9,21.9 451.2,21.9 451.6,21.9 451.9,21.9 452.3,21.9 452.7,21.9 453,21.9 453.4,21.9 453.7,21.9 454.1,21.9 454.5,21.9 454.8,21.9 455.2,21.9 455.5,21.9 455.9,21.9 456.3,21.9 456.6,22 457,22 457.3,22 457.7,22 458.1,22 458.4,22 458.8,22 459.1,22 459.5,22 459.9,22 460.2,22 460.6,22 460.9,22 461.3,22 461.7,22 462,22 462.4,22 462.7,22 463.1,22 463.5,22 463.8,22 464.2,22 464.5,22.1 464.9,22.1 465.3,22.1 465.6,22.1 466,22.1 466.3,22.1 466.7,22.1 467.1,22.1 467.4,22.1 467.8,22.1 468.1,22.1 468.5,22.1 468.8,22.1 469.2,22.1 469.6,22.1 469.9,22.1 470.3,22.1 470.6,22.1 471,22.2 471.4,22.2 471.7,22.2 472.1,22.2 472.4,22.2 472.8,22.2 473.2,22.2 473.5,22.2 473.9,22.2 474.2,22.2 474.6,22.2 475,22.2 475.3,22.2 475.7,22.2 476,22.2 476.4,22.2 476.8,22.3 477.1,22.3 477.5,22.3 477.8,22.3 478.2,22.3 478.6,22.3 478.9,22.3 479.3,22.3 479.6,22.3 480,22.3 480.4,22.3 480.7,22.3 481.1,22.4 481.4,22.4 481.8,22.4 482.2,22.4 482.5,22.4 482.9,22.4 483.2,22.4 483.6,22.4 484,22.4 484.3,22.5 484.7,22.5 485,22.5 485.4,22.5 485.7,22.5 486.1,22.5 486.5,22.5 486.8,22.5 487.2,22.6 487.5,22.6 487.9,22.6 488.3,22.6 488.6,22.6 489,22.6 489.3,22.6 489.7,22.7 490.1,22.7 490.4,22.7 490.8,22.7 491.1,22.7 491.5,22.7 491.9,22.8 492.2,22.8 492.6,22.8 492.9,22.8 493.3,22.8 493.7,22.8 494,22.8 494.4,22.9 494.7,22.9 495.1,22.9 495.5,22.9 495.8,22.9 496.2,22.9 496.5,23 496.9,23 497.3,23 497.6,23 498,23 498.3,23 498.7,23.1 499.1,23.1 499.4,23.1 499.8,23.1 500.1,23.1 500.5,23.2 500.9,23.2 501.2,23.2 501.6,23.2 501.9,23.2 502.3,23.3 502.6,23.3 503,23.3 503.4,23.3 503.7,23.3 504.1,23.4 504.4,23.4 504.8,23.4 505.2,23.4 505.5,23.5 505.9,23.5 506.2,23.5 506.6,23.5 507,23.5 507.3,23.6 507.7,23.6 508,23.6 508.4,23.6 508.8,23.7 509.1,23.7 509.5,23.7 509.8,23.7 510.2,23.8 510.6,23.8 510.9,23.8 511.3,23.8 511.6,23.9 512,23.9 512.4,23.9 512.7,23.9 513.1,24 513.4,24 513.8,24 514.2,24.1 514.5,24.1 514.9,24.1 515.2,24.1 515.6,24.2 516,24.2 516.3,24.2 516.7,24.3 517,24.3 517.4,24.3 517.8,24.4 518.1,24.4 518.5,24.4 518.8,24.5 519.2,24.5 519.5,24.5 519.9,24.6 520.3,24.6 520.6,24.6 521,24.7 521.3,24.7 521.7,24.7 522.1,24.8 522.4,24.8 522.8,24.8 523.1,24.9 523.5,24.9 523.9,24.9 524.2,25 524.6,25 524.9,25.1 525.3,25.1 525.7,25.1 526,25.2 526.4,25.2 526.7,25.2 527.1,25.3 527.5,25.3 527.8,25.4 528.2,25.4 528.5,25.4 528.9,25.5 529.3,25.5 529.6,25.6 530,25.6 530.3,25.7 530.7,25.7 531.1,25.7 531.4,25.8 531.8,25.8 532.1,25.9 532.5,25.9 532.9,26 533.2,26 533.6,26.1 533.9,26.1 534.3,26.2 534.7,26.2 535,26.3 535.4,26.3 535.7,26.3 536.1,26.4 536.4,26.4 536.8,26.5 537.2,26.6 537.5,26.6 537.9,26.7 538.2,26.7 538.6,26.8 539,26.8 539.3,26.9 539.7,26.9 540,27 540.4,27 540.8,27.1 541.1,27.1 541.5,27.2 541.8,27.2 542.2,27.3 542.6,27.4 542.9,27.4 543.3,27.5 543.6,27.5 544,27.6" fill="none" stroke="#0000ff" stroke-width="1.6" stroke-linejoin="round"/>
<polyline points="343,20.7 343.4,20.7 343.7,20.7 344.1,20.7 344.4,20.7 344.8,20.7 345.2,20.7 345.5,20.7 345.9,20.7 346.2,20.8 346.6,20.8 347,20.8 347.3,20.8 347.7,20.8 348,20.8 348.4,20.8 348.8,20.8 349.1,20.8 349.5,20.8 349.8,20.8 350.2,20.8 350.6,20.8 350.9,20.8 351.3,20.8 351.6,20.8 352,20.8 352.3,20.8 352.7,20.8 353.1,20.8 353.4,20.8 353.8,20.8 354.1,20.8 354.5,20.8 354.9,20.8 355.2,20.8 355.6,20.8 355.9,20.8 356.3,20.8 356.7,20.8 357,20.8 357.4,20.8 357.7,20.8 358.1,20.8 358.5,20.8 358.8,20.8 359.2,20.8 359.5,20.8 359.9,20.8 360.3,20.8 360.6,20.8 361,20.8 361.3,20.8 361.7,20.8 362.1,20.8 362.4,20.8 362.8,20.8 363.1,20.8 363.5,20.8 363.9,20.8 364.2,20.8 364.6,20.8 364.9,20.8 365.3,20.8 365.7,20.9 366,20.9 366.4,20.9 366.7,20.9 367.1,20.9 367.5,20.9 367.8,20.9 368.2,20.9 368.5,20.9 368.9,20.9 369.2,20.9 369.6,20.9 370,20.9 370.3,20.9 370.7,20.9 371,20.9 371.4,20.9 371.8,20.9 372.1,20.9 372.5,20.9 372.8,20.9 373.2,20.9 373.6,20.9 373.9,20.9 374.3,20.9 374.6,20.9 375,20.9 375.4,20.9 375.7,20.9 376.1,20.9 376.4,20.9 376.8,20.9 377.2,20.9 377.5,20.9 377.9,20.9 378.2,20.9 378.6,20.9 379,20.9 379.3,21 379.7,21 380,21 380.4,21 380.8,21 381.1,21 381.5,21 381.8,21 382.2,21 382.6,21 382.9,21 383.3,21 383.6,21 384,21 384.4,21 384.7,21 385.1,21 385.4,21 385.8,21 386.1,21 386.5,21 386.9,21 387.2,21 387.6,21 387.9,21 388.3,21 388.7,21 389,21.1 389.4,21.1 389.7,21.1 390.1,21.1 390.5,21.1 390.8,21.1 391.2,21.1 391.5,21.1 391.9,21.1 392.3,21.1 392.6,21.1 393,21.1 393.3,21.1 393.7,21.1 394.1,21.1 394.4,21.1 394.8,21.1 395.1,21.1 395.5,21.1 395.9,21.1 396.2,21.1 396.6,21.1 396.9,21.2 397.3,21.2 397.7,21.2 398,21.2 398.4,21.2 398.7,21.2 399.1,21.2 399.5,21.2 399.8,21.2 400.2,21.2 400.5,21.2 400.9,21.2 401.3,21.2 401.6,21.2 402,21.2 402.3,21.2 402.7,21.2 403,21.2 403.4,21.2 403.8,21.2 404.1,21.2 404.5,21.2 404.8,21.2 405.2,21.3 405.6,21.3 405.9,21.3 406.3,21.3 406.6,21.3 407,21.3 407.4,21.3 407.7,21.3 408.1,21.3 408.4,21.3 408.8,21.3 409.2,21.3 409.5,21.3 409.9,21.3 410.2,21.3 410.6,21.3 411,21.3 411.3,21.3 411.7,21.3 412,21.3 412.4,21.3 412.8,21.3 413.1,21.3 413.5,21.3 413.8,21.4 414.2,21.4 414.6,21.4 414.9,21.4 415.3,21.4 415.6,21.4 416,21.4 416.4,21.4 416.7,21.4 417.1,21.4 417.4,21.4 417.8,21.4 418.2,21.4 418.5,21.4 418.9,21.4 419.2,21.4 419.6,21.4 419.9,21.4 420.3,21.4 420.7,21.4 421,21.4 421.4,21.4 421.7,21.4 422.1,21.4 422.5,21.5 422.8,21.5 423.2,21.5 423.5,21.5 423.9,21.5 424.3,21.5 424.6,21.5 425,21.5 425.3,21.5 425.7,21.5 426.1,21.5 426.4,21.5 426.8,21.5 427.1,21.5 427.5,21.5 427.9,21.5 428.2,21.5 428.6,21.5 428.9,21.5 429.3,21.5 429.7,21.5 430,21.5 430.4,21.5 430.7,21.5 431.1,21.5 431.5,21.6 431.8,21.6 432.2,21.6 432.5,21.6 432.9,21.6 433.3,21.6 433.6,21.6 434,21.6 434.3,21.6 434.7,21.6 435.1,21.6 435.4,21.6 435.8,21.6 436.1,21.6 436.5,21.6 436.8,21.6 437.2,21.6 437.6,21.6 437.9,21.6 438.3,21.6 438.6,21.6 439,21.6 439.4,21.6 439.7,21.6 440.1,21.7 440.4,21.7 440.8,21.7 441.2,21.7 441.5,21.7 441.9,21.7 442.2,21.7 442.6,21.7 443,21.7 443.3,21.7 443.7,21.7 444,21.7 444.4,21.7 444.8,21.7 445.1,21.7 445.5,21.7 445.8,21.7 446.2,21.7 446.6,21.7 446.9,21.7 447.3,21.7 447.6,21.7 448,21.7 448.4,21.7 448.7,21.7 449.1,21.7 449.4,21.8 449.8,21.8 450.2,21.8 450.5,21.8 450.9,21.8 451.2,21.8 451.6,21.8 451.9,21.8 452.3,21.8 452.7,21.8 453,21.8 453.4,21.8 453.7,21.8 454.1,21.8 454.5,21.8 454.8,21.8 455.2,21.8 455.5,21.8 455.9,21.8 456.3,21.8 456.6,21.8 457,21.8 457.3,21.8 457.7,21.8 458.1,21.8 458.4,21.8 458.8,21.8 459.1,21.8 459.5,21.8 459.9,21.8 460.2,21.9 460.6,21.9 460.9,21.9 461.3,21.9 461.7,21.9 462,21.9 462.4,21.9 462.7,21.9 463.1,21.9 463.5,21.9 463.8,21.9 464.2,21.9 464.5,21.9 464.9,21.9 465.3,21.9 465.6,21.9 466,21.9 466.3,21.9 466.7,21.9 467.1,21.9 467.4,21.9 467.8,21.9 468.1,21.9 468.5,21.9 468.8,21.9 469.2,22 469.6,22 469.9,22 470.3,22 470.6,22 471,22 471.4,22 471.7,22 472.1,22 472.4,22 472.8,22 473.2,22 473.5,22 473.9,22 474.2,22 474.6,22 475,22 475.3,22 475.7,22 476,22.1 476.4,22.1 476.8,22.1 477.1,22.1 477.5,22.1 477.8,22.1 478.2,22.1 478.6,22.1 478.9,22.1 479.3,22.1 479.6,22.1 480,22.1 480.4,22.1 480.7,22.1 481.1,22.2 481.4,22.2 481.8,22.2 482.2,22.2 482.5,22.2 482.9,22.2 483.2,22.2 483.6,22.2 484,22.2 484.3,22.2 484.7,22.3 485,22.3 485.4,22.3 485.7,22.3 486.1,22.3 486.5,22.3 486.8,22.3 487.2,22.3 487.5,22.3 487.9,22.4 488.3,22.4 488.6,22.4 489,22.4 489.3,22.4 489.7,22.4 490.1,22.4 490.4,22.4 490.8,22.5 491.1,22.5 491.5,22.5 491.9,22.5 492.2,22.5 492.6,22.5 492.9,22.5 493.3,22.6 493.7,22.6 494,22.6 494.4,22.6 494.7,22.6 495.1,22.6 495.5,22.6 495.8,22.7 496.2,22.7 496.5,22.7 496.9,22.7 497.3,22.7 497.6,22.7 498,22.8 498.3,22.8 498.7,22.8 499.1,22.8 499.4,22.8 499.8,22.8 500.1,22.9 500.5,22.9 500.9,22.9 501.2,22.9 501.6,22.9 501.9,22.9 502.3,23 502.6,23 503,23 503.4,23 503.7,23 504.1,23.1 504.4,23.1 504.8,23.1 505.2,23.1 505.5,23.1 505.9,23.1 506.2,23.2 506.6,23.2 507,23.2 507.3,23.2 507.7,23.2 508,23.3 508.4,23.3 508.8,23.3 509.1,23.3 509.5,23.3 509.8,23.4 510.2,23.4 510.6,23.4 510.9,23.4 511.3,23.4 511.6,23.5 512,23.5 512.4,23.5 512.7,23.5 513.1,23.6 513.4,23.6 513.8,23.6 514.2,23.6 514.5,23.7 514.9,23.7 515.2,23.7 515.6,23.7 516,23.8 516.3,23.8 516.7,23.8 517,23.8 517.4,23.9 517.8,23.9 518.1,23.9 518.5,24 518.8,24 519.2,24 519.5,24.1 519.9,24.1 520.3,24.1 520.6,24.1 521,24.2 521.3,24.2 521.7,24.2 522.1,24.3 522.4,24.3 522.8,24.3 523.1,24.4 523.5,24.4 523.9,24.4 524.2,24.5 524.6,24.5 524.9,24.6 525.3,24.6 525.7,24.6 526,24.7 526.4,24.7 526.7,24.7 527.1,24.8 527.5,24.8 527.8,24.9 528.2,24.9 528.5,24.9 528.9,25 529.3,25 529.6,25 530,25.1 530.3,25.1 530.7,25.2 531.1,25.2 531.4,25.2 531.8,25.3 532.1,25.3 532.5,25.4 532.9,25.4 533.2,25.5 533.6,25.5 533.9,25.5 534.3,25.6 534.7,25.6 535,25.7 535.4,25.7 535.7,25.8 536.1,25.8 536.4,25.8 536.8,25.9 537.2,25.9 537.5,26 537.9,26 538.2,26.1 538.6,26.1 539,26.2 539.3,26.2 539.7,26.3 540,26.3 540.4,26.3 540.8,26.4 541.1,26.4 541.5,26.5 541.8,26.5 542.2,26.6 542.6,26.6 542.9,26.7 543.3,26.7 543.6,26.8 544,26.8" fill="none" stroke="#0000ff" stroke-width="1.6" stroke-linejoin="round" stroke-dasharray="4.2 3.2"/>
<polyline points="343,24.2 343.4,24.1 343.7,24.1 344.1,24.1 344.4,24 344.8,24 345.2,24 345.5,24 345.9,23.9 346.2,23.9 346.6,23.9 347,23.9 347.3,23.8 347.7,23.8 348,23.8 348.4,23.7 348.8,23.7 349.1,23.7 349.5,23.7 349.8,23.6 350.2,23.6 350.6,23.6 350.9,23.6 351.3,23.5 351.6,23.5 352,23.5 352.3,23.5 352.7,23.4 353.1,23.4 353.4,23.4 353.8,23.4 354.1,23.4 354.5,23.3 354.9,23.3 355.2,23.3 355.6,23.3 355.9,23.2 356.3,23.2 356.7,23.2 357,23.2 357.4,23.2 357.7,23.1 358.1,23.1 358.5,23.1 358.8,23.1 359.2,23.1 359.5,23 359.9,23 360.3,23 360.6,23 361,23 361.3,22.9 361.7,22.9 362.1,22.9 362.4,22.9 362.8,22.9 363.1,22.8 363.5,22.8 363.9,22.8 364.2,22.8 364.6,22.8 364.9,22.7 365.3,22.7 365.7,22.7 366,22.7 366.4,22.7 366.7,22.6 367.1,22.6 367.5,22.6 367.8,22.6 368.2,22.6 368.5,22.6 368.9,22.5 369.2,22.5 369.6,22.5 370,22.5 370.3,22.5 370.7,22.5 371,22.4 371.4,22.4 371.8,22.4 372.1,22.4 372.5,22.4 372.8,22.4 373.2,22.4 373.6,22.4 373.9,22.3 374.3,22.3 374.6,22.3 375,22.3 375.4,22.3 375.7,22.3 376.1,22.3 376.4,22.3 376.8,22.3 377.2,22.2 377.5,22.2 377.9,22.2 378.2,22.2 378.6,22.2 379,22.2 379.3,22.2 379.7,22.2 380,22.2 380.4,22.2 380.8,22.2 381.1,22.1 381.5,22.1 381.8,22.1 382.2,22.1 382.6,22.1 382.9,22.1 383.3,22.1 383.6,22.1 384,22.1 384.4,22.1 384.7,22.1 385.1,22 385.4,22 385.8,22 386.1,22 386.5,22 386.9,22 387.2,22 387.6,22 387.9,22 388.3,22 388.7,22 389,22 389.4,21.9 389.7,21.9 390.1,21.9 390.5,21.9 390.8,21.9 391.2,21.9 391.5,21.9 391.9,21.9 392.3,21.9 392.6,21.9 393,21.9 393.3,21.9 393.7,21.9 394.1,21.9 394.4,21.8 394.8,21.8 395.1,21.8 395.5,21.8 395.9,21.8 396.2,21.8 396.6,21.8 396.9,21.8 397.3,21.8 397.7,21.8 398,21.8 398.4,21.8 398.7,21.8 399.1,21.8 399.5,21.8 399.8,21.8 400.2,21.8 400.5,21.8 400.9,21.7 401.3,21.7 401.6,21.7 402,21.7 402.3,21.7 402.7,21.7 403,21.7 403.4,21.7 403.8,21.7 404.1,21.7 404.5,21.7 404.8,21.7 405.2,21.7 405.6,21.7 405.9,21.7 406.3,21.7 406.6,21.7 407,21.7 407.4,21.7 407.7,21.7 408.1,21.7 408.4,21.7 408.8,21.7 409.2,21.7 409.5,21.7 409.9,21.7 410.2,21.7 410.6,21.7 411,21.7 411.3,21.7 411.7,21.7 412,21.7 412.4,21.7 412.8,21.7 413.1,21.7 413.5,21.7 413.8,21.7 414.2,21.7 414.6,21.7 414.9,21.7 415.3,21.7 415.6,21.7 416,21.7 416.4,21.7 416.7,21.7 417.1,21.7 417.4,21.7 417.8,21.7 418.2,21.7 418.5,21.7 418.9,21.7 419.2,21.7 419.6,21.7 419.9,21.7 420.3,21.7 420.7,21.7 421,21.7 421.4,21.7 421.7,21.7 422.1,21.7 422.5,21.7 422.8,21.7 423.2,21.7 423.5,21.7 423.9,21.7 424.3,21.7 424.6,21.7 425,21.7 425.3,21.7 425.7,21.7 426.1,21.7 426.4,21.7 426.8,21.7 427.1,21.7 427.5,21.7 427.9,21.7 428.2,21.7 428.6,21.7 428.9,21.7 429.3,21.7 429.7,21.7 430,21.7 430.4,21.7 430.7,21.7 431.1,21.7 431.5,21.7 431.8,21.7 432.2,21.7 432.5,21.7 432.9,21.7 433.3,21.7 433.6,21.7 434,21.7 434.3,21.7 434.7,21.7 435.1,21.7 435.4,21.7 435.8,21.7 436.1,21.7 436.5,21.7 436.8,21.7 437.2,21.7 437.6,21.7 437.9,21.7 438.3,21.7 438.6,21.7 439,21.7 439.4,21.7 439.7,21.7 440.1,21.7 440.4,21.7 440.8,21.7 441.2,21.7 441.5,21.7 441.9,21.7 442.2,21.7 442.6,21.7 443,21.7 443.3,21.7 443.7,21.7 444,21.7 444.4,21.7 444.8,21.7 445.1,21.7 445.5,21.7 445.8,21.7 446.2,21.7 446.6,21.7 446.9,21.7 447.3,21.7 447.6,21.7 448,21.7 448.4,21.7 448.7,21.7 449.1,21.7 449.4,21.7 449.8,21.7 450.2,21.7 450.5,21.7 450.9,21.7 451.2,21.7 451.6,21.7 451.9,21.7 452.3,21.7 452.7,21.7 453,21.7 453.4,21.7 453.7,21.7 454.1,21.7 454.5,21.7 454.8,21.7 455.2,21.7 455.5,21.8 455.9,21.8 456.3,21.8 456.6,21.8 457,21.8 457.3,21.8 457.7,21.8 458.1,21.8 458.4,21.8 458.8,21.8 459.1,21.8 459.5,21.8 459.9,21.8 460.2,21.8 460.6,21.8 460.9,21.8 461.3,21.8 461.7,21.8 462,21.8 462.4,21.8 462.7,21.8 463.1,21.8 463.5,21.8 463.8,21.9 464.2,21.9 464.5,21.9 464.9,21.9 465.3,21.9 465.6,21.9 466,21.9 466.3,21.9 466.7,21.9 467.1,21.9 467.4,21.9 467.8,21.9 468.1,21.9 468.5,21.9 468.8,21.9 469.2,21.9 469.6,21.9 469.9,21.9 470.3,22 470.6,22 471,22 471.4,22 471.7,22 472.1,22 472.4,22 472.8,22 473.2,22 473.5,22 473.9,22 474.2,22 474.6,22 475,22 475.3,22 475.7,22 476,22.1 476.4,22.1 476.8,22.1 477.1,22.1 477.5,22.1 477.8,22.1 478.2,22.1 478.6,22.1 478.9,22.1 479.3,22.1 479.6,22.1 480,22.1 480.4,22.1 480.7,22.2 481.1,22.2 481.4,22.2 481.8,22.2 482.2,22.2 482.5,22.2 482.9,22.2 483.2,22.2 483.6,22.2 484,22.3 484.3,22.3 484.7,22.3 485,22.3 485.4,22.3 485.7,22.3 486.1,22.3 486.5,22.4 486.8,22.4 487.2,22.4 487.5,22.4 487.9,22.4 488.3,22.4 488.6,22.4 489,22.5 489.3,22.5 489.7,22.5 490.1,22.5 490.4,22.5 490.8,22.5 491.1,22.5 491.5,22.6 491.9,22.6 492.2,22.6 492.6,22.6 492.9,22.6 493.3,22.6 493.7,22.6 494,22.7 494.4,22.7 494.7,22.7 495.1,22.7 495.5,22.7 495.8,22.7 496.2,22.7 496.5,22.7 496.9,22.8 497.3,22.8 497.6,22.8 498,22.8 498.3,22.8 498.7,22.8 499.1,22.8 499.4,22.9 499.8,22.9 500.1,22.9 500.5,22.9 500.9,22.9 501.2,22.9 501.6,23 501.9,23 502.3,23 502.6,23 503,23 503.4,23 503.7,23 504.1,23.1 504.4,23.1 504.8,23.1 505.2,23.1 505.5,23.1 505.9,23.1 506.2,23.2 506.6,23.2 507,23.2 507.3,23.2 507.7,23.2 508,23.3 508.4,23.3 508.8,23.3 509.1,23.3 509.5,23.3 509.8,23.4 510.2,23.4 510.6,23.4 510.9,23.4 511.3,23.4 511.6,23.5 512,23.5 512.4,23.5 512.7,23.5 513.1,23.6 513.4,23.6 513.8,23.6 514.2,23.7 514.5,23.7 514.9,23.7 515.2,23.7 515.6,23.8 516,23.8 516.3,23.8 516.7,23.9 517,23.9 517.4,23.9 517.8,24 518.1,24 518.5,24 518.8,24.1 519.2,24.1 519.5,24.1 519.9,24.2 520.3,24.2 520.6,24.2 521,24.3 521.3,24.3 521.7,24.4 522.1,24.4 522.4,24.4 522.8,24.5 523.1,24.5 523.5,24.5 523.9,24.6 524.2,24.6 524.6,24.6 524.9,24.7 525.3,24.7 525.7,24.8 526,24.8 526.4,24.8 526.7,24.9 527.1,24.9 527.5,24.9 527.8,25 528.2,25 528.5,25.1 528.9,25.1 529.3,25.1 529.6,25.2 530,25.2 530.3,25.2 530.7,25.3 531.1,25.3 531.4,25.4 531.8,25.4 532.1,25.4 532.5,25.5 532.9,25.5 533.2,25.5 533.6,25.6 533.9,25.6 534.3,25.7 534.7,25.7 535,25.8 535.4,25.8 535.7,25.8 536.1,25.9 536.4,25.9 536.8,26 537.2,26 537.5,26 537.9,26.1 538.2,26.1 538.6,26.2 539,26.2 539.3,26.3 539.7,26.3 540,26.3 540.4,26.4 540.8,26.4 541.1,26.5 541.5,26.5 541.8,26.6 542.2,26.6 542.6,26.6 542.9,26.7 543.3,26.7 543.6,26.8 544,26.8" fill="none" stroke="#00ff00" stroke-width="1.2" stroke-linejoin="round" stroke-dasharray="4.2 3.2"/>
<polyline points="343,24.2 343.4,24.1 343.7,24.1 344.1,24.1 344.4,24 344.8,24 345.2,24 345.5,24 345.9,23.9 346.2,23.9 346.6,23.9 347,23.9 347.3,23.8 347.7,23.8 348,23.8 348.4,23.7 348.8,23.7 349.1,23.7 349.5,23.7 349.8,23.6 350.2,23.6 350.6,23.6 350.9,23.6 351.3,23.5 351.6,23.5 352,23.5 352.3,23.5 352.7,23.4 353.1,23.4 353.4,23.4 353.8,23.4 354.1,23.4 354.5,23.3 354.9,23.3 355.2,23.3 355.6,23.3 355.9,23.2 356.3,23.2 356.7,23.2 357,23.2 357.4,23.2 357.7,23.1 358.1,23.1 358.5,23.1 358.8,23.1 359.2,23.1 359.5,23 359.9,23 360.3,23 360.6,23 361,23 361.3,22.9 361.7,22.9 362.1,22.9 362.4,22.9 362.8,22.9 363.1,22.8 363.5,22.8 363.9,22.8 364.2,22.8 364.6,22.8 364.9,22.7 365.3,22.7 365.7,22.7 366,22.7 366.4,22.7 366.7,22.6 367.1,22.6 367.5,22.6 367.8,22.6 368.2,22.6 368.5,22.6 368.9,22.5 369.2,22.5 369.6,22.5 370,22.5 370.3,22.5 370.7,22.5 371,22.4 371.4,22.4 371.8,22.4 372.1,22.4 372.5,22.4 372.8,22.4 373.2,22.4 373.6,22.4 373.9,22.3 374.3,22.3 374.6,22.3 375,22.3 375.4,22.3 375.7,22.3 376.1,22.3 376.4,22.3 376.8,22.3 377.2,22.2 377.5,22.2 377.9,22.2 378.2,22.2 378.6,22.2 379,22.2 379.3,22.2 379.7,22.2 380,22.2 380.4,22.2 380.8,22.2 381.1,22.1 381.5,22.1 381.8,22.1 382.2,22.1 382.6,22.1 382.9,22.1 383.3,22.1 383.6,22.1 384,22.1 384.4,22.1 384.7,22.1 385.1,22 385.4,22 385.8,22 386.1,22 386.5,22 386.9,22 387.2,22 387.6,22 387.9,22 388.3,22 388.7,22 389,22 389.4,21.9 389.7,21.9 390.1,21.9 390.5,21.9 390.8,21.9 391.2,21.9 391.5,21.9 391.9,21.9 392.3,21.9 392.6,21.9 393,21.9 393.3,21.9 393.7,21.9 394.1,21.9 394.4,21.8 394.8,21.8 395.1,21.8 395.5,21.8 395.9,21.8 396.2,21.8 396.6,21.8 396.9,21.8 397.3,21.8 397.7,21.8 398,21.8 398.4,21.8 398.7,21.8 399.1,21.8 399.5,21.8 399.8,21.8 400.2,21.8 400.5,21.8 400.9,21.7 401.3,21.7 401.6,21.7 402,21.7 402.3,21.7 402.7,21.7 403,21.7 403.4,21.7 403.8,21.7 404.1,21.7 404.5,21.7 404.8,21.7 405.2,21.7 405.6,21.7 405.9,21.7 406.3,21.7 406.6,21.7 407,21.7 407.4,21.7 407.7,21.7 408.1,21.7 408.4,21.7 408.8,21.7 409.2,21.7 409.5,21.7 409.9,21.7 410.2,21.7 410.6,21.7 411,21.7 411.3,21.7 411.7,21.7 412,21.7 412.4,21.7 412.8,21.7 413.1,21.7 413.5,21.7 413.8,21.7 414.2,21.7 414.6,21.7 414.9,21.7 415.3,21.7 415.6,21.7 416,21.7 416.4,21.7 416.7,21.7 417.1,21.7 417.4,21.7 417.8,21.7 418.2,21.7 418.5,21.7 418.9,21.7 419.2,21.7 419.6,21.7 419.9,21.7 420.3,21.7 420.7,21.7 421,21.7 421.4,21.7 421.7,21.7 422.1,21.7 422.5,21.7 422.8,21.7 423.2,21.7 423.5,21.7 423.9,21.7 424.3,21.7 424.6,21.7 425,21.7 425.3,21.7 425.7,21.7 426.1,21.7 426.4,21.7 426.8,21.7 427.1,21.7 427.5,21.7 427.9,21.7 428.2,21.7 428.6,21.7 428.9,21.7 429.3,21.7 429.7,21.7 430,21.7 430.4,21.7 430.7,21.7 431.1,21.7 431.5,21.7 431.8,21.7 432.2,21.7 432.5,21.7 432.9,21.7 433.3,21.7 433.6,21.7 434,21.7 434.3,21.7 434.7,21.7 435.1,21.7 435.4,21.7 435.8,21.7 436.1,21.7 436.5,21.7 436.8,21.7 437.2,21.7 437.6,21.7 437.9,21.7 438.3,21.7 438.6,21.7 439,21.7 439.4,21.7 439.7,21.7 440.1,21.7 440.4,21.7 440.8,21.7 441.2,21.7 441.5,21.7 441.9,21.7 442.2,21.7 442.6,21.7 443,21.7 443.3,21.7 443.7,21.7 444,21.7 444.4,21.7 444.8,21.7 445.1,21.7 445.5,21.7 445.8,21.7 446.2,21.7 446.6,21.7 446.9,21.7 447.3,21.7 447.6,21.7 448,21.7 448.4,21.7 448.7,21.7 449.1,21.7 449.4,21.7 449.8,21.7 450.2,21.7 450.5,21.7 450.9,21.7 451.2,21.7 451.6,21.7 451.9,21.7 452.3,21.7 452.7,21.7 453,21.7 453.4,21.7 453.7,21.7 454.1,21.7 454.5,21.7 454.8,21.7 455.2,21.7 455.5,21.8 455.9,21.8 456.3,21.8 456.6,21.8 457,21.8 457.3,21.8 457.7,21.8 458.1,21.8 458.4,21.8 458.8,21.8 459.1,21.8 459.5,21.8 459.9,21.8 460.2,21.8 460.6,21.8 460.9,21.8 461.3,21.8 461.7,21.8 462,21.8 462.4,21.8 462.7,21.8 463.1,21.8 463.5,21.8 463.8,21.9 464.2,21.9 464.5,21.9 464.9,21.9 465.3,21.9 465.6,21.9 466,21.9 466.3,21.9 466.7,21.9 467.1,21.9 467.4,21.9 467.8,21.9 468.1,21.9 468.5,21.9 468.8,21.9 469.2,21.9 469.6,21.9 469.9,21.9 470.3,22 470.6,22 471,22 471.4,22 471.7,22 472.1,22 472.4,22 472.8,22 473.2,22 473.5,22 473.9,22 474.2,22 474.6,22 475,22 475.3,22 475.7,22 476,22.1 476.4,22.1 476.8,22.1 477.1,22.1 477.5,22.1 477.8,22.1 478.2,22.1 478.6,22.1 478.9,22.1 479.3,22.1 479.6,22.1 480,22.1 480.4,22.1 480.7,22.2 481.1,22.2 481.4,22.2 481.8,22.2 482.2,22.2 482.5,22.2 482.9,22.2 483.2,22.2 483.6,22.2 484,22.3 484.3,22.3 484.7,22.3 485,22.3 485.4,22.3 485.7,22.3 486.1,22.3 486.5,22.4 486.8,22.4 487.2,22.4 487.5,22.4 487.9,22.4 488.3,22.4 488.6,22.4 489,22.5 489.3,22.5 489.7,22.5 490.1,22.5 490.4,22.5 490.8,22.5 491.1,22.5 491.5,22.6 491.9,22.6 492.2,22.6 492.6,22.6 492.9,22.6 493.3,22.6 493.7,22.6 494,22.7 494.4,22.7 494.7,22.7 495.1,22.7 495.5,22.7 495.8,22.7 496.2,22.7 496.5,22.7 496.9,22.8 497.3,22.8 497.6,22.8 498,22.8 498.3,22.8 498.7,22.8 499.1,22.8 499.4,22.9 499.8,22.9 500.1,22.9 500.5,22.9 500.9,22.9 501.2,22.9 501.6,23 501.9,23 502.3,23 502.6,23 503,23 503.4,23 503.7,23 504.1,23.1 504.4,23.1 504.8,23.1 505.2,23.1 505.5,23.1 505.9,23.1 506.2,23.2 506.6,23.2 507,23.2 507.3,23.2 507.7,23.2 508,23.3 508.4,23.3 508.8,23.3 509.1,23.3 509.5,23.3 509.8,23.4 510.2,23.4 510.6,23.4 510.9,23.4 511.3,23.4 511.6,23.5 512,23.5 512.4,23.5 512.7,23.5 513.1,23.6 513.4,23.6 513.8,23.6 514.2,23.7 514.5,23.7 514.9,23.7 515.2,23.7 515.6,23.8 516,23.8 516.3,23.8 516.7,23.9 517,23.9 517.4,23.9 517.8,24 518.1,24 518.5,24 518.8,24.1 519.2,24.1 519.5,24.1 519.9,24.2 520.3,24.2 520.6,24.2 521,24.3 521.3,24.3 521.7,24.4 522.1,24.4 522.4,24.4 522.8,24.5 523.1,24.5 523.5,24.5 523.9,24.6 524.2,24.6 524.6,24.6 524.9,24.7 525.3,24.7 525.7,24.8 526,24.8 526.4,24.8 526.7,24.9 527.1,24.9 527.5,24.9 527.8,25 528.2,25 528.5,25.1 528.9,25.1 529.3,25.1 529.6,25.2 530,25.2 530.3,25.2 530.7,25.3 531.1,25.3 531.4,25.4 531.8,25.4 532.1,25.4 532.5,25.5 532.9,25.5 533.2,25.5 533.6,25.6 533.9,25.6 534.3,25.7 534.7,25.7 535,25.8 535.4,25.8 535.7,25.8 536.1,25.9 536.4,25.9 536.8,26 537.2,26 537.5,26 537.9,26.1 538.2,26.1 538.6,26.2 539,26.2 539.3,26.3 539.7,26.3 540,26.3 540.4,26.4 540.8,26.4 541.1,26.5 541.5,26.5 541.8,26.6 542.2,26.6 542.6,26.6 542.9,26.7 543.3,26.7 543.6,26.8 544,26.8" fill="none" stroke="#00ff00" stroke-width="1.6" stroke-linejoin="round"/>
<polyline points="343,48.1 343.4,48.4 343.7,48.6 344.1,48.9 344.4,49.1 344.8,49.4 345.2,49.6 345.5,49.9 345.9,50.2 346.2,50.4 346.6,50.7 347,51 347.3,51.2 347.7,51.5 348,51.8 348.4,52.1 348.8,52.3 349.1,52.6 349.5,52.9 349.8,53.2 350.2,53.5 350.6,53.7 350.9,54 351.3,54.3 351.6,54.6 352,54.9 352.3,55.2 352.7,55.5 353.1,55.8 353.4,56 353.8,56.3 354.1,56.6 354.5,56.9 354.9,57.2 355.2,57.5 355.6,57.8 355.9,58.1 356.3,58.4 356.7,58.7 357,59 357.4,59.4 357.7,59.7 358.1,60 358.5,60.3 358.8,60.6 359.2,60.9 359.5,61.2 359.9,61.5 360.3,61.8 360.6,62.2 361,62.5 361.3,62.8 361.7,63.1 362.1,63.4 362.4,63.7 362.8,64 363.1,64.3 363.5,64.6 363.9,64.9 364.2,65.2 364.6,65.6 364.9,65.9 365.3,66.2 365.7,66.5 366,66.8 366.4,67.1 366.7,67.5 367.1,67.8 367.5,68.1 367.8,68.4 368.2,68.8 368.5,69.1 368.9,69.4 369.2,69.8 369.6,70.1 370,70.5 370.3,70.8 370.7,71.2 371,71.5 371.4,71.9 371.8,72.3 372.1,72.7 372.5,73 372.8,73.4 373.2,73.8 373.6,74.2 373.9,74.6 374.3,75 374.6,75.5 375,75.9 375.4,76.3 375.7,76.8 376.1,77.2 376.4,77.7 376.8,78.1 377.2,78.6 377.5,79.2 377.9,79.7 378.2,80.3 378.6,80.9 379,81.5 379.3,82.1 379.7,82.8 380,83.5 380.4,84.1 380.8,84.8 381.1,85.5 381.5,86.2 381.8,86.9 382.2,87.6 382.6,88.3 382.9,89 383.3,89.7 383.6,90.3 384,91 384.4,91.6 384.7,92.3 385.1,92.9 385.4,93.5 385.8,94.1 386.1,94.6 386.5,95.2 386.9,95.7 387.2,96.2 387.6,96.7 387.9,97.2 388.3,97.6 388.7,98.1 389,98.6 389.4,99.1 389.7,99.5 390.1,100 390.5,100.4 390.8,100.9 391.2,101.3 391.5,101.7 391.9,102.2 392.3,102.6 392.6,103 393,103.4 393.3,103.8 393.7,104.2 394.1,104.6 394.4,105 394.8,105.4 395.1,105.8 395.5,106.2 395.9,106.6 396.2,107 396.6,107.4 396.9,107.7 397.3,108.1 397.7,108.5 398,108.9 398.4,109.4 398.7,109.8 399.1,110.2 399.5,110.7 399.8,111.1 400.2,111.5 400.5,112 400.9,112.4 401.3,112.8 401.6,113.3 402,113.7 402.3,114.1 402.7,114.5 403,114.9 403.4,115.2 403.8,115.6 404.1,115.9 404.5,116.2 404.8,116.5 405.2,116.8 405.6,117 405.9,117.3 406.3,117.5 406.6,117.6 407,117.8 407.4,117.9 407.7,118 408.1,118 408.4,118 408.8,118 409.2,117.9 409.5,117.7 409.9,117.5 410.2,117.3 410.6,117 411,116.7 411.3,116.4 411.7,116 412,115.6 412.4,115.1 412.8,114.6 413.1,114.1 413.5,113.6 413.8,113.1 414.2,112.5 414.6,111.9 414.9,111.3 415.3,110.7 415.6,110.1 416,109.5 416.4,108.9 416.7,108.3 417.1,107.7 417.4,107.1 417.8,106.5 418.2,105.9 418.5,105.3 418.9,104.7 419.2,104.1 419.6,103.6 419.9,103.1 420.3,102.6 420.7,102.1 421,101.7 421.4,101.3 421.7,100.9 422.1,100.5 422.5,100.1 422.8,99.8 423.2,99.4 423.5,99 423.9,98.6 424.3,98.3 424.6,97.9 425,97.5 425.3,97.2 425.7,96.8 426.1,96.5 426.4,96.1 426.8,95.8 427.1,95.4 427.5,95.1 427.9,94.7 428.2,94.4 428.6,94 428.9,93.7 429.3,93.4 429.7,93.1 430,92.7 430.4,92.4 430.7,92.1 431.1,91.8 431.5,91.5 431.8,91.2 432.2,90.9 432.5,90.6 432.9,90.3 433.3,90 433.6,89.7 434,89.4 434.3,89.1 434.7,88.8 435.1,88.6 435.4,88.3 435.8,88 436.1,87.7 436.5,87.5 436.8,87.2 437.2,86.9 437.6,86.6 437.9,86.4 438.3,86.1 438.6,85.8 439,85.5 439.4,85.3 439.7,85 440.1,84.8 440.4,84.5 440.8,84.2 441.2,84 441.5,83.7 441.9,83.5 442.2,83.3 442.6,83 443,82.8 443.3,82.6 443.7,82.3 444,82.1 444.4,81.9 444.8,81.7 445.1,81.5 445.5,81.3 445.8,81.1 446.2,80.9 446.6,80.7 446.9,80.6 447.3,80.4 447.6,80.2 448,80.1 448.4,80 448.7,79.8 449.1,79.7 449.4,79.5 449.8,79.4 450.2,79.3 450.5,79.2 450.9,79 451.2,78.9 451.6,78.8 451.9,78.7 452.3,78.5 452.7,78.4 453,78.3 453.4,78.2 453.7,78.1 454.1,78 454.5,77.9 454.8,77.8 455.2,77.7 455.5,77.6 455.9,77.5 456.3,77.4 456.6,77.3 457,77.3 457.3,77.2 457.7,77.1 458.1,77 458.4,76.9 458.8,76.9 459.1,76.8 459.5,76.7 459.9,76.7 460.2,76.6 460.6,76.5 460.9,76.5 461.3,76.4 461.7,76.4 462,76.3 462.4,76.2 462.7,76.2 463.1,76.1 463.5,76.1 463.8,76 464.2,76 464.5,75.9 464.9,75.8 465.3,75.8 465.6,75.7 466,75.7 466.3,75.6 466.7,75.6 467.1,75.5 467.4,75.5 467.8,75.4 468.1,75.4 468.5,75.3 468.8,75.3 469.2,75.2 469.6,75.2 469.9,75.1 470.3,75.1 470.6,75.1 471,75 471.4,75 471.7,75 472.1,74.9 472.4,74.9 472.8,74.9 473.2,74.8 473.5,74.8 473.9,74.8 474.2,74.8 474.6,74.8 475,74.7 475.3,74.7 475.7,74.7 476,74.7 476.4,74.7 476.8,74.7 477.1,74.7 477.5,74.7 477.8,74.7 478.2,74.7 478.6,74.7 478.9,74.7 479.3,74.8 479.6,74.8 480,74.8 480.4,74.8 480.7,74.8 481.1,74.9 481.4,74.9 481.8,74.9 482.2,75 482.5,75 482.9,75 483.2,75.1 483.6,75.1 484,75.2 484.3,75.2 484.7,75.3 485,75.3 485.4,75.3 485.7,75.4 486.1,75.4 486.5,75.5 486.8,75.5 487.2,75.6 487.5,75.7 487.9,75.7 488.3,75.8 488.6,75.8 489,75.9 489.3,75.9 489.7,76 490.1,76 490.4,76.1 490.8,76.2 491.1,76.2 491.5,76.3 491.9,76.3 492.2,76.4 492.6,76.4 492.9,76.5 493.3,76.5 493.7,76.6 494,76.6 494.4,76.7 494.7,76.8 495.1,76.8 495.5,76.9 495.8,77 496.2,77.1 496.5,77.2 496.9,77.3 497.3,77.3 497.6,77.4 498,77.5 498.3,77.6 498.7,77.7 499.1,77.8 499.4,77.9 499.8,78 500.1,78 500.5,78.1 500.9,78.2 501.2,78.3 501.6,78.3 501.9,78.4 502.3,78.4 502.6,78.4 503,78.5 503.4,78.5 503.7,78.5 504.1,78.5 504.4,78.5 504.8,78.5 505.2,78.5 505.5,78.4 505.9,78.4 506.2,78.4 506.6,78.3 507,78.3 507.3,78.3 507.7,78.2 508,78.2 508.4,78.1 508.8,78 509.1,78 509.5,77.9 509.8,77.9 510.2,77.8 510.6,77.7 510.9,77.6 511.3,77.5 511.6,77.4 512,77.3 512.4,77.1 512.7,77 513.1,76.8 513.4,76.6 513.8,76.4 514.2,76.1 514.5,75.9 514.9,75.6 515.2,75.4 515.6,75.1 516,74.8 516.3,74.5 516.7,74.2 517,73.9 517.4,73.6 517.8,73.3 518.1,72.9 518.5,72.6 518.8,72.3 519.2,71.9 519.5,71.6 519.9,71.3 520.3,70.9 520.6,70.6 521,70.3 521.3,69.9 521.7,69.6 522.1,69.3 522.4,68.9 522.8,68.6 523.1,68.2 523.5,67.8 523.9,67.4 524.2,67 524.6,66.6 524.9,66.2 525.3,65.8 525.7,65.4 526,64.9 526.4,64.5 526.7,64.1 527.1,63.6 527.5,63.2 527.8,62.7 528.2,62.3 528.5,61.8 528.9,61.3 529.3,60.9 529.6,60.4 530,60 530.3,59.5 530.7,59 531.1,58.6 531.4,58.1 531.8,57.7 532.1,57.2 532.5,56.7 532.9,56.2 533.2,55.7 533.6,55.2 533.9,54.7 534.3,54.2 534.7,53.7 535,53.2 535.4,52.7 535.7,52.2 536.1,51.7 536.4,51.2 536.8,50.7 537.2,50.2 537.5,49.7 537.9,49.2 538.2,48.7 538.6,48.2 539,47.7 539.3,47.2 539.7,46.7 540,46.2 540.4,45.8 540.8,45.3 541.1,44.8 541.5,44.4 541.8,43.9 542.2,43.5 542.6,43 542.9,42.6 543.3,42.1 543.6,41.7 544,41.3" fill="none" stroke="#000" stroke-width="1.3" stroke-linejoin="round" stroke-dasharray="4.2 3.2"/>
<polyline points="343,44.3 343.4,44.7 343.7,45 344.1,45.4 344.4,45.9 344.8,46.3 345.2,46.7 345.5,47.2 345.9,47.7 346.2,48.1 346.6,48.6 347,49.2 347.3,49.7 347.7,50.2 348,50.8 348.4,51.3 348.8,51.9 349.1,52.5 349.5,53.1 349.8,53.7 350.2,54.3 350.6,54.9 350.9,55.6 351.3,56.2 351.6,56.9 352,57.5 352.3,58.2 352.7,58.9 353.1,59.5 353.4,60.2 353.8,61 354.1,61.8 354.5,62.6 354.9,63.5 355.2,64.4 355.6,65.3 355.9,66.2 356.3,67.2 356.7,68.2 357,69.2 357.4,70.2 357.7,71.3 358.1,72.3 358.5,73.3 358.8,74.4 359.2,75.4 359.5,76.5 359.9,77.5 360.3,78.5 360.6,79.5 361,80.5 361.3,81.5 361.7,82.4 362.1,83.3 362.4,84.2 362.8,85.1 363.1,85.9 363.5,86.7 363.9,87.4 364.2,88.1 364.6,88.8 364.9,89.4 365.3,90 365.7,90.6 366,91.2 366.4,91.7 366.7,92.3 367.1,92.9 367.5,93.4 367.8,94 368.2,94.6 368.5,95.3 368.9,96 369.2,96.7 369.6,97.4 370,98.3 370.3,99.2 370.7,100.2 371,101.2 371.4,102.3 371.8,103.4 372.1,104.5 372.5,105.6 372.8,106.7 373.2,107.8 373.6,108.8 373.9,109.8 374.3,110.7 374.6,111.6 375,112.4 375.4,113.1 375.7,113.8 376.1,114.6 376.4,115.3 376.8,116 377.2,116.7 377.5,117.3 377.9,117.8 378.2,118.3 378.6,118.6 379,118.7 379.3,118.8 379.7,118.7 380,118.6 380.4,118.4 380.8,118.2 381.1,117.9 381.5,117.6 381.8,117.2 382.2,116.8 382.6,116.5 382.9,116 383.3,115.3 383.6,114.5 384,113.6 384.4,112.7 384.7,111.7 385.1,110.8 385.4,109.9 385.8,109.1 386.1,108.4 386.5,107.7 386.9,107 387.2,106.3 387.6,105.6 387.9,105 388.3,104.4 388.7,103.8 389,103.2 389.4,102.7 389.7,102.2 390.1,101.7 390.5,101.3 390.8,100.9 391.2,100.5 391.5,100.1 391.9,99.7 392.3,99.4 392.6,99 393,98.6 393.3,98.3 393.7,98 394.1,97.6 394.4,97.2 394.8,96.9 395.1,96.5 395.5,96.1 395.9,95.8 396.2,95.4 396.6,95 396.9,94.6 397.3,94.2 397.7,93.9 398,93.5 398.4,93.1 398.7,92.7 399.1,92.3 399.5,91.9 399.8,91.6 400.2,91.2 400.5,90.8 400.9,90.5 401.3,90.1 401.6,89.8 402,89.4 402.3,89.1 402.7,88.8 403,88.5 403.4,88.2 403.8,87.9 404.1,87.6 404.5,87.3 404.8,87.1 405.2,86.8 405.6,86.6 405.9,86.4 406.3,86.1 406.6,85.9 407,85.7 407.4,85.4 407.7,85.2 408.1,85 408.4,84.8 408.8,84.6 409.2,84.4 409.5,84.2 409.9,84 410.2,83.8 410.6,83.6 411,83.4 411.3,83.2 411.7,83 412,82.9 412.4,82.7 412.8,82.5 413.1,82.4 413.5,82.2 413.8,82 414.2,81.9 414.6,81.7 414.9,81.6 415.3,81.4 415.6,81.3 416,81.2 416.4,81 416.7,80.9 417.1,80.7 417.4,80.6 417.8,80.5 418.2,80.4 418.5,80.2 418.9,80.1 419.2,80 419.6,79.9 419.9,79.7 420.3,79.6 420.7,79.5 421,79.4 421.4,79.3 421.7,79.2 422.1,79.1 422.5,78.9 422.8,78.8 423.2,78.7 423.5,78.6 423.9,78.5 424.3,78.4 424.6,78.3 425,78.2 425.3,78.1 425.7,78 426.1,77.9 426.4,77.8 426.8,77.7 427.1,77.6 427.5,77.5 427.9,77.4 428.2,77.3 428.6,77.2 428.9,77.1 429.3,77 429.7,76.9 430,76.8 430.4,76.7 430.7,76.6 431.1,76.6 431.5,76.5 431.8,76.4 432.2,76.3 432.5,76.2 432.9,76.1 433.3,76 433.6,75.9 434,75.8 434.3,75.7 434.7,75.6 435.1,75.5 435.4,75.4 435.8,75.3 436.1,75.3 436.5,75.2 436.8,75.1 437.2,75 437.6,74.9 437.9,74.8 438.3,74.8 438.6,74.7 439,74.6 439.4,74.6 439.7,74.5 440.1,74.4 440.4,74.4 440.8,74.3 441.2,74.2 441.5,74.2 441.9,74.1 442.2,74.1 442.6,74 443,74 443.3,74 443.7,73.9 444,73.9 444.4,73.8 444.8,73.8 445.1,73.8 445.5,73.7 445.8,73.7 446.2,73.7 446.6,73.7 446.9,73.6 447.3,73.6 447.6,73.6 448,73.5 448.4,73.5 448.7,73.5 449.1,73.5 449.4,73.4 449.8,73.4 450.2,73.4 450.5,73.4 450.9,73.4 451.2,73.3 451.6,73.3 451.9,73.3 452.3,73.3 452.7,73.2 453,73.2 453.4,73.2 453.7,73.2 454.1,73.2 454.5,73.1 454.8,73.1 455.2,73.1 455.5,73.1 455.9,73.1 456.3,73 456.6,73 457,73 457.3,73 457.7,73 458.1,72.9 458.4,72.9 458.8,72.9 459.1,72.9 459.5,72.8 459.9,72.8 460.2,72.8 460.6,72.8 460.9,72.8 461.3,72.7 461.7,72.7 462,72.7 462.4,72.6 462.7,72.6 463.1,72.6 463.5,72.5 463.8,72.5 464.2,72.5 464.5,72.5 464.9,72.4 465.3,72.4 465.6,72.4 466,72.3 466.3,72.3 466.7,72.3 467.1,72.2 467.4,72.2 467.8,72.2 468.1,72.1 468.5,72.1 468.8,72.1 469.2,72 469.6,72 469.9,72 470.3,72 470.6,71.9 471,71.9 471.4,71.9 471.7,71.9 472.1,71.8 472.4,71.8 472.8,71.8 473.2,71.8 473.5,71.7 473.9,71.7 474.2,71.7 474.6,71.7 475,71.7 475.3,71.7 475.7,71.7 476,71.7 476.4,71.7 476.8,71.7 477.1,71.7 477.5,71.7 477.8,71.7 478.2,71.7 478.6,71.7 478.9,71.7 479.3,71.8 479.6,71.8 480,71.8 480.4,71.9 480.7,71.9 481.1,71.9 481.4,72 481.8,72 482.2,72.1 482.5,72.1 482.9,72.2 483.2,72.3 483.6,72.3 484,72.4 484.3,72.5 484.7,72.5 485,72.6 485.4,72.7 485.7,72.8 486.1,72.9 486.5,72.9 486.8,73 487.2,73.1 487.5,73.2 487.9,73.3 488.3,73.4 488.6,73.4 489,73.5 489.3,73.6 489.7,73.7 490.1,73.8 490.4,73.9 490.8,74 491.1,74.1 491.5,74.2 491.9,74.2 492.2,74.3 492.6,74.4 492.9,74.5 493.3,74.6 493.7,74.7 494,74.8 494.4,74.9 494.7,75 495.1,75.1 495.5,75.2 495.8,75.3 496.2,75.5 496.5,75.6 496.9,75.8 497.3,75.9 497.6,76 498,76.2 498.3,76.3 498.7,76.5 499.1,76.6 499.4,76.8 499.8,76.9 500.1,77 500.5,77.1 500.9,77.3 501.2,77.4 501.6,77.4 501.9,77.5 502.3,77.6 502.6,77.7 503,77.7 503.4,77.7 503.7,77.7 504.1,77.7 504.4,77.7 504.8,77.7 505.2,77.7 505.5,77.6 505.9,77.6 506.2,77.6 506.6,77.5 507,77.4 507.3,77.4 507.7,77.3 508,77.2 508.4,77.1 508.8,77.1 509.1,77 509.5,76.9 509.8,76.8 510.2,76.7 510.6,76.6 510.9,76.5 511.3,76.3 511.6,76.1 512,75.9 512.4,75.7 512.7,75.5 513.1,75.2 513.4,74.9 513.8,74.6 514.2,74.3 514.5,74 514.9,73.6 515.2,73.3 515.6,72.9 516,72.5 516.3,72.1 516.7,71.7 517,71.3 517.4,70.8 517.8,70.4 518.1,70 518.5,69.6 518.8,69.1 519.2,68.7 519.5,68.3 519.9,67.8 520.3,67.4 520.6,67 521,66.6 521.3,66.1 521.7,65.6 522.1,65.1 522.4,64.6 522.8,64.1 523.1,63.6 523.5,63 523.9,62.5 524.2,61.9 524.6,61.4 524.9,60.8 525.3,60.3 525.7,59.7 526,59.2 526.4,58.7 526.7,58.2 527.1,57.8 527.5,57.3 527.8,56.9 528.2,56.5 528.5,56 528.9,55.6 529.3,55.2 529.6,54.8 530,54.3 530.3,53.9 530.7,53.5 531.1,53.1 531.4,52.7 531.8,52.3 532.1,51.9 532.5,51.4 532.9,51 533.2,50.6 533.6,50.2 533.9,49.9 534.3,49.5 534.7,49.1 535,48.7 535.4,48.3 535.7,47.9 536.1,47.6 536.4,47.2 536.8,46.8 537.2,46.5 537.5,46.1 537.9,45.8 538.2,45.4 538.6,45.1 539,44.7 539.3,44.4 539.7,44.1 540,43.7 540.4,43.4 540.8,43.1 541.1,42.8 541.5,42.5 541.8,42.2 542.2,41.9 542.6,41.6 542.9,41.3 543.3,41 543.6,40.8 544,40.5" fill="none" stroke="#ff0000" stroke-width="1.3" stroke-linejoin="round" stroke-dasharray="4.2 3.2"/>
</g>
<path d="M343 158.3v-2M343 6.3v2M376.5 158.3v-2M376.5 6.3v2M410 158.3v-2M410 6.3v2M443.5 158.3v-2M443.5 6.3v2M477 158.3v-2M477 6.3v2M510.5 158.3v-2M510.5 6.3v2M544 158.3v-2M544 6.3v2M343 6.3h2M544 6.3h-2M343 44.3h2M544 44.3h-2M343 82.3h2M544 82.3h-2M343 120.3h2M544 120.3h-2M343 158.3h2M544 158.3h-2" stroke="#9a9a9a" stroke-width="0.8" fill="none"/>
<rect x="343" y="6.3" width="201" height="152" fill="none" stroke="#b4b4b4" stroke-width="1.3"/>
<text x="343" y="170.7" text-anchor="middle">3</text>
<text x="376.5" y="170.7" text-anchor="middle">4</text>
<text x="410" y="170.7" text-anchor="middle">5</text>
<text x="443.5" y="170.7" text-anchor="middle">6</text>
<text x="477" y="170.7" text-anchor="middle">7</text>
<text x="510.5" y="170.7" text-anchor="middle">8</text>
<text x="544" y="170.7" text-anchor="middle">9</text>
<text x="339.9" y="10.2" text-anchor="end">0</text>
<text x="339.9" y="48.2" text-anchor="end">-10</text>
<text x="339.9" y="86.2" text-anchor="end">-20</text>
<text x="339.9" y="124.2" text-anchor="end">-30</text>
<text x="339.9" y="162.2" text-anchor="end">-40</text>
<text x="443.5" y="182.8" text-anchor="middle" font-size="9.75">Freq(GHz)</text>
<text transform="translate(322.9 82.6) rotate(-90)" text-anchor="middle" font-size="9.75">Spar(dB)</text>
<rect x="487" y="73.4" width="56.8" height="82.6" fill="#fff" stroke="#b4b4b4" stroke-width="1"/>
<path d="M489.2 79.6H502.6" stroke="#000" stroke-width="1.5"/>
<text x="504.2" y="82.3" font-size="7.6">S11-MEAS</text>
<path d="M489.2 89.8H502.6" stroke="#ff0000" stroke-width="1.5"/>
<text x="504.2" y="92.5" font-size="7.6">S22-MEAS</text>
<path d="M489.2 99.9H502.6" stroke="#0000ff" stroke-width="1.5"/>
<text x="504.2" y="102.6" font-size="7.6">S51-MEAS</text>
<path d="M489.2 110H502.6" stroke="#00ff00" stroke-width="1.5"/>
<text x="504.2" y="112.8" font-size="7.6">S62-MEAS</text>
<path d="M489.2 120.2H502.6" stroke="#000" stroke-width="1.5" stroke-dasharray="4.2 4.6"/>
<text x="504.2" y="122.9" font-size="7.6">S11-SIM</text>
<path d="M489.2 130.3H502.6" stroke="#ff0000" stroke-width="1.5" stroke-dasharray="4.2 4.6"/>
<text x="504.2" y="133" font-size="7.6">S22-SIM</text>
<path d="M489.2 140.5H502.6" stroke="#0000ff" stroke-width="1.5" stroke-dasharray="4.2 4.6"/>
<text x="504.2" y="143.2" font-size="7.6">S51-SIM</text>
<path d="M489.2 150.6H502.6" stroke="#00ff00" stroke-width="1.5" stroke-dasharray="4.2 4.6"/>
<text x="504.2" y="153.3" font-size="7.6">S62-SIM</text>
</g>
<g font-family="'Liberation Sans', Arial, Helvetica, sans-serif" font-size="8.3" fill="#262626" stroke="#262626" stroke-width="0.15">
<path d="M73.4 220.5V366M105.3 220.5V366M137.2 220.5V366M169.2 220.5V366M201.1 220.5V366M41.5 256.9H233M41.5 293.2H233M41.5 329.6H233" stroke="#ececec" stroke-width="1" fill="none"/>
<clipPath id="cc"><rect x="41.5" y="220.5" width="191.5" height="145.5"/></clipPath>
<g clip-path="url(#cc)">
<polyline points="41.5,234.2 42.1,264.1 42.7,230.7 43.2,244 43.8,231.1 44.4,236.1 45,233 45.6,268.7 46.2,240.6 46.7,263.4 47.3,260.8 47.9,258.6 48.5,247.5 49.1,246.2 49.6,233.6 50.2,273.1 50.8,265.6 51.4,258.7 52,239.7 52.6,251.3 53.1,253.1 53.7,243 54.3,247.7 54.9,263.1 55.5,271.7 56.1,256.4 56.6,239.5 57.2,251.3 57.8,273.7 58.4,258.2 59,260.6 59.5,252.9 60.1,252.9 60.7,238.9 61.3,263.1 61.9,260.5 62.5,252.8 63,242.8 63.6,249.9 64.2,258.9 64.8,246.5 65.4,258.8 65.9,242 66.5,266.4 67.1,272 67.7,248.1 68.3,266.6 68.9,248.7 69.4,257 70,260.8 70.6,274.6 71.2,253.1 71.8,275.8 72.3,249.2 72.9,252.6 73.5,269.9 74.1,275.3 74.7,255.1 75.3,266.9 75.8,276.9 76.4,268.1 77,275.1 77.6,272 78.2,267.4 78.8,262 79.3,265.6 79.9,280.4 80.5,274.3 81.1,274.7 81.7,265.3 82.2,284.4 82.8,276.6 83.4,269.6 84,280.1 84.6,283.3 85.2,278.4 85.7,283.1 86.3,272.7 86.9,287.7 87.5,285.8 88.1,288.1 88.6,277.9 89.2,285 89.8,275.5 90.4,276 91,275.6 91.6,286.1 92.1,290 92.7,284.5 93.3,276.4 93.9,279.5 94.5,289.4 95.1,280.8 95.6,278.3 96.2,277.9 96.8,281.4 97.4,279.8 98,280.3 98.5,286.4 99.1,289.6 99.7,282.4 100.3,289.3 100.9,286.6 101.5,280 102,285 102.6,285.6 103.2,281.3 103.8,288.5 104.4,281.2 104.9,278.1 105.5,288.2 106.1,288.7 106.7,290.9 107.3,283.3 107.9,290.7 108.4,292.7 109,284.4 109.6,287.4 110.2,287 110.8,286.7 111.3,293.4 111.9,293.1 112.5,289.6 113.1,293.9 113.7,289.9 114.3,288 114.8,288.9 115.4,289.4 116,294.6 116.6,293.1 117.2,287.4 117.8,294.3 118.3,290.9 118.9,295.2 119.5,287.7 120.1,297.1 120.7,292.4 121.2,291.4 121.8,288.3 122.4,288.4 123,290.2 123.6,293.5 124.2,299.2 124.7,290.8 125.3,288.8 125.9,296.5 126.5,290.6 127.1,295.4 127.6,293.3 128.2,292.9 128.8,292.3 129.4,289.5 130,291.9 130.6,294.3 131.1,291.9 131.7,293.9 132.3,295.1 132.9,294.9 133.5,294 134,295.7 134.6,296.1 135.2,296.9 135.8,294.8 136.4,296 137,292.2 137.5,292.2 138.1,296 138.7,294.2 139.3,292.3 139.9,296.3 140.5,295 141,295.9 141.6,294.6 142.2,292.6 142.8,298.4 143.4,292.9 143.9,295.1 144.5,294.3 145.1,295.5 145.7,294.1 146.3,297.9 146.9,294.1 147.4,298.6 148,297.1 148.6,296.1 149.2,299.4 149.8,300.4 150.3,295.8 150.9,293.8 151.5,296.9 152.1,299.2 152.7,297.2 153.3,301 153.8,297.5 154.4,298.1 155,298 155.6,299.2 156.2,300.7 156.7,297.8 157.3,299.5 157.9,297.9 158.5,300.4 159.1,304.7 159.7,299.6 160.2,299.2 160.8,297.6 161.4,297.9 162,303 162.6,298.9 163.2,302 163.7,299.6 164.3,301.6 164.9,302.1 165.5,301.2 166.1,300.9 166.6,300.3 167.2,300.8 167.8,299.6 168.4,302.5 169,300.9 169.6,303 170.1,301.6 170.7,302.8 171.3,302.1 171.9,305.4 172.5,302.7 173,304.4 173.6,303.6 174.2,305.5 174.8,302.2 175.4,301 176,304.2 176.5,305.8 177.1,302.2 177.7,305.9 178.3,301.6 178.9,306.2 179.4,304.9 180,304.2 180.6,306.5 181.2,306.5 181.8,305.9 182.4,303.4 182.9,302 183.5,305.7 184.1,301.7 184.7,307.3 185.3,304.8 185.9,305.8 186.4,306.8 187,303.8 187.6,304.4 188.2,308.1 188.8,307.3 189.3,304.4 189.9,303.5 190.5,305.9 191.1,304.5 191.7,301.1 192.3,305.5 192.8,306.2 193.4,308.8 194,308.1 194.6,306.8 195.2,305.1 195.7,308.9 196.3,308.5 196.9,310.8 197.5,307 198.1,308.6 198.7,306.7 199.2,310.1 199.8,307.7 200.4,307.8 201,309.1 201.6,310.8 202.2,309.7 202.7,307.8 203.3,311.1 203.9,311.8 204.5,309.7 205.1,311.1 205.6,307.9 206.2,307.9 206.8,307.3 207.4,308 208,309.2 208.6,312 209.1,306.5 209.7,309 210.3,309 210.9,309.4 211.5,308.7 212,311.9 212.6,309.8 213.2,310.8 213.8,312.8 214.4,312.1 215,313.1 215.5,311.3 216.1,312.1 216.7,311.8 217.3,309.4 217.9,310.5 218.4,310.6 219,306.1 219.6,313.5 220.2,311.8 220.8,314.4 221.4,313.3 221.9,309.5 222.5,314.6 223.1,309.3 223.7,310.3 224.3,312.4 224.9,310.8 225.4,313 226,313.6 226.6,312.8 227.2,314.6 227.8,314.1 228.3,314.2 228.9,310.3 229.5,314.1 230.1,314.8 230.7,310.8 231.3,315.5 231.8,310.8 232.4,309.4 233,312.8" fill="none" stroke="#000" stroke-width="1.1" stroke-linejoin="round"/>
<polyline points="41.5,292.8 42.1,293.8 42.7,292.9 43.2,293.4 43.8,291.7 44.4,293.1 45,293.4 45.6,293.7 46.2,292.8 46.7,291.1 47.3,293 47.9,292.3 48.5,290.9 49.1,293.3 49.6,292.5 50.2,291 50.8,292.9 51.4,290.6 52,290.8 52.6,292.6 53.1,291.4 53.7,291.4 54.3,291 54.9,292 55.5,291.7 56.1,292.1 56.6,291.9 57.2,292.2 57.8,290.2 58.4,290.2 59,291.6 59.5,290.6 60.1,291.1 60.7,291.6 61.3,291.4 61.9,289.7 62.5,291.3 63,290.6 63.6,289.6 64.2,291.3 64.8,289.9 65.4,291.6 65.9,290 66.5,289.7 67.1,289.6 67.7,289.1 68.3,289.8 68.9,289 69.4,290.8 70,290.1 70.6,290.9 71.2,291.2 71.8,290.2 72.3,289.4 72.9,289.3 73.5,291.2 74.1,288.8 74.7,290.6 75.3,290.5 75.8,289 76.4,288.8 77,289.2 77.6,290.3 78.2,289.9 78.8,288.9 79.3,290.2 79.9,289 80.5,289 81.1,289.8 81.7,288.7 82.2,290 82.8,289 83.4,289.3 84,290.1 84.6,289.6 85.2,289.4 85.7,289.5 86.3,290.6 86.9,288.3 87.5,288.4 88.1,290.8 88.6,288.4 89.2,289.5 89.8,290.6 90.4,288.8 91,289.8 91.6,289.1 92.1,288.8 92.7,289.6 93.3,290.8 93.9,288.8 94.5,289.2 95.1,288.6 95.6,290.3 96.2,289 96.8,288.8 97.4,290.2 98,290.1 98.5,290.3 99.1,291.1 99.7,290.6 100.3,290.3 100.9,290.9 101.5,289.2 102,290.1 102.6,289.8 103.2,290.5 103.8,290.3 104.4,289.3 104.9,290.1 105.5,289.7 106.1,290.2 106.7,289.8 107.3,288.9 107.9,290.6 108.4,289.9 109,289.5 109.6,291.1 110.2,288.8 110.8,290 111.3,290.6 111.9,289.3 112.5,289.1 113.1,289.6 113.7,288.9 114.3,291.1 114.8,289.9 115.4,289.3 116,288.9 116.6,289.6 117.2,289.7 117.8,290.3 118.3,289.8 118.9,289.8 119.5,288.9 120.1,289.1 120.7,289.4 121.2,288.9 121.8,291.1 122.4,289.3 123,290.1 123.6,289.3 124.2,290.5 124.7,290.1 125.3,289.2 125.9,291.2 126.5,290.6 127.1,290.1 127.6,289.1 128.2,290.7 128.8,289.2 129.4,290.8 130,290.6 130.6,290 131.1,289.7 131.7,289.2 132.3,289.2 132.9,290.9 133.5,289.6 134,289.9 134.6,290.6 135.2,289.6 135.8,289.3 136.4,290.4 137,289.2 137.5,291.3 138.1,291.2 138.7,289.7 139.3,290.9 139.9,290.2 140.5,290.5 141,291.4 141.6,289.8 142.2,289.9 142.8,291.5 143.4,291.2 143.9,289.8 144.5,289.6 145.1,289.7 145.7,290.7 146.3,291.1 146.9,290.9 147.4,291.6 148,290.8 148.6,291.6 149.2,291.8 149.8,291.2 150.3,292.1 150.9,291.1 151.5,290.5 152.1,290.7 152.7,289.8 153.3,290.1 153.8,290.8 154.4,290.1 155,291.4 155.6,290.5 156.2,291.8 156.7,291.2 157.3,290.1 157.9,291.1 158.5,291.4 159.1,290.7 159.7,291.9 160.2,290.6 160.8,292.7 161.4,292.2 162,292.4 162.6,292.2 163.2,290.4 163.7,292.8 164.3,292.1 164.9,291.4 165.5,291.1 166.1,290.9 166.6,292 167.2,292.4 167.8,290.8 168.4,292.7 169,292.9 169.6,292.5 170.1,291.9 170.7,290.7 171.3,291.3 171.9,291.8 172.5,291.9 173,291.5 173.6,291.7 174.2,292.5 174.8,293.2 175.4,292.9 176,291.4 176.5,291.9 177.1,291.5 177.7,293.5 178.3,291.3 178.9,292.7 179.4,291.3 180,292.2 180.6,292.4 181.2,291.7 181.8,292.3 182.4,292.2 182.9,293.6 183.5,292.5 184.1,293.2 184.7,294 185.3,293.9 185.9,293 186.4,293.6 187,292.4 187.6,294.1 188.2,294.5 188.8,291.9 189.3,293.8 189.9,293.4 190.5,294.2 191.1,294.3 191.7,293.8 192.3,292.9 192.8,294.9 193.4,292.9 194,292.6 194.6,293.8 195.2,294.4 195.7,294.8 196.3,295 196.9,294.7 197.5,293.4 198.1,295.7 198.7,293.7 199.2,294.1 199.8,295.8 200.4,295.8 201,294.1 201.6,294.3 202.2,295.3 202.7,293.9 203.3,295.7 203.9,295.2 204.5,296 205.1,294.7 205.6,296.2 206.2,296 206.8,294.5 207.4,295.3 208,294.9 208.6,294.7 209.1,295.1 209.7,296.2 210.3,295 210.9,296.5 211.5,296.2 212,295.8 212.6,296.7 213.2,296.8 213.8,295.4 214.4,295.2 215,296.3 215.5,296.3 216.1,296.8 216.7,296.1 217.3,296 217.9,295.1 218.4,297.5 219,295.3 219.6,295.2 220.2,297 220.8,296.1 221.4,295.9 221.9,296.5 222.5,297.5 223.1,296.7 223.7,296.2 224.3,298.3 224.9,297.4 225.4,298.7 226,296.7 226.6,297 227.2,299 227.8,297.3 228.3,297.6 228.9,299.2 229.5,298.2 230.1,297.9 230.7,299 231.3,298.7 231.8,297.6 232.4,298.6 233,299.1" fill="none" stroke="#ff0000" stroke-width="1.3" stroke-linejoin="round"/>
<polyline points="41.5,226.3 42.1,226.9 42.7,227.4 43.2,228 43.8,228.5 44.4,229.1 45,229.7 45.6,230.2 46.2,230.8 46.7,231.4 47.3,231.9 47.9,232.5 48.5,233.1 49.1,233.7 49.6,234.3 50.2,234.9 50.8,235.4 51.4,236 52,236.6 52.6,237.2 53.1,237.8 53.7,238.4 54.3,239 54.9,239.6 55.5,240.2 56.1,240.8 56.6,241.5 57.2,242.1 57.8,242.7 58.4,243.3 59,243.9 59.5,244.6 60.1,245.2 60.7,245.9 61.3,246.5 61.9,247.2 62.5,247.9 63,248.5 63.6,249.2 64.2,249.8 64.8,250.5 65.4,251.2 65.9,251.8 66.5,252.4 67.1,253.1 67.7,253.7 68.3,254.3 68.9,254.9 69.4,255.5 70,256.1 70.6,256.7 71.2,257.3 71.8,257.9 72.3,258.5 72.9,259.1 73.5,259.6 74.1,260.2 74.7,260.8 75.3,261.3 75.8,261.9 76.4,262.4 77,263 77.6,263.5 78.2,264.1 78.8,264.6 79.3,265.2 79.9,265.7 80.5,266.3 81.1,266.8 81.7,267.3 82.2,267.9 82.8,268.4 83.4,268.9 84,269.5 84.6,270 85.2,270.5 85.7,271 86.3,271.5 86.9,271.9 87.5,272.4 88.1,272.9 88.6,273.3 89.2,273.7 89.8,274.2 90.4,274.6 91,275 91.6,275.4 92.1,275.9 92.7,276.3 93.3,276.7 93.9,277.1 94.5,277.5 95.1,277.9 95.6,278.3 96.2,278.7 96.8,279.1 97.4,279.5 98,279.8 98.5,280.2 99.1,280.6 99.7,280.9 100.3,281.3 100.9,281.6 101.5,281.9 102,282.2 102.6,282.5 103.2,282.8 103.8,283.1 104.4,283.4 104.9,283.6 105.5,283.9 106.1,284.1 106.7,284.3 107.3,284.6 107.9,284.8 108.4,285 109,285.2 109.6,285.4 110.2,285.6 110.8,285.8 111.3,286 111.9,286.2 112.5,286.4 113.1,286.5 113.7,286.7 114.3,286.9 114.8,287 115.4,287.2 116,287.4 116.6,287.5 117.2,287.7 117.8,287.9 118.3,288 118.9,288.2 119.5,288.4 120.1,288.5 120.7,288.7 121.2,288.9 121.8,289 122.4,289.2 123,289.4 123.6,289.6 124.2,289.7 124.7,289.9 125.3,290.1 125.9,290.2 126.5,290.4 127.1,290.5 127.6,290.7 128.2,290.9 128.8,291 129.4,291.2 130,291.4 130.6,291.5 131.1,291.7 131.7,291.8 132.3,292 132.9,292.1 133.5,292.3 134,292.4 134.6,292.6 135.2,292.7 135.8,292.9 136.4,293 137,293.2 137.5,293.3 138.1,293.5 138.7,293.6 139.3,293.7 139.9,293.9 140.5,294 141,294.2 141.6,294.3 142.2,294.4 142.8,294.6 143.4,294.7 143.9,294.8 144.5,295 145.1,295.1 145.7,295.2 146.3,295.3 146.9,295.5 147.4,295.6 148,295.7 148.6,295.9 149.2,296 149.8,296.1 150.3,296.2 150.9,296.4 151.5,296.5 152.1,296.6 152.7,296.8 153.3,296.9 153.8,297 154.4,297.2 155,297.3 155.6,297.4 156.2,297.6 156.7,297.7 157.3,297.8 157.9,298 158.5,298.1 159.1,298.2 159.7,298.4 160.2,298.5 160.8,298.6 161.4,298.8 162,298.9 162.6,299 163.2,299.2 163.7,299.3 164.3,299.4 164.9,299.6 165.5,299.7 166.1,299.8 166.6,300 167.2,300.1 167.8,300.2 168.4,300.4 169,300.5 169.6,300.6 170.1,300.7 170.7,300.9 171.3,301 171.9,301.1 172.5,301.2 173,301.4 173.6,301.5 174.2,301.6 174.8,301.7 175.4,301.8 176,302 176.5,302.1 177.1,302.2 177.7,302.3 178.3,302.4 178.9,302.6 179.4,302.7 180,302.8 180.6,302.9 181.2,303 181.8,303.1 182.4,303.3 182.9,303.4 183.5,303.5 184.1,303.6 184.7,303.7 185.3,303.8 185.9,303.9 186.4,304.1 187,304.2 187.6,304.3 188.2,304.4 188.8,304.5 189.3,304.6 189.9,304.8 190.5,304.9 191.1,305 191.7,305.1 192.3,305.2 192.8,305.3 193.4,305.5 194,305.6 194.6,305.7 195.2,305.8 195.7,305.9 196.3,306 196.9,306.1 197.5,306.2 198.1,306.3 198.7,306.4 199.2,306.5 199.8,306.5 200.4,306.6 201,306.7 201.6,306.8 202.2,306.8 202.7,306.9 203.3,307 203.9,307 204.5,307.1 205.1,307.1 205.6,307.2 206.2,307.3 206.8,307.3 207.4,307.4 208,307.4 208.6,307.5 209.1,307.5 209.7,307.6 210.3,307.6 210.9,307.7 211.5,307.7 212,307.8 212.6,307.8 213.2,307.9 213.8,307.9 214.4,308 215,308 215.5,308 216.1,308.1 216.7,308.1 217.3,308.2 217.9,308.2 218.4,308.3 219,308.3 219.6,308.4 220.2,308.4 220.8,308.4 221.4,308.5 221.9,308.5 222.5,308.6 223.1,308.6 223.7,308.7 224.3,308.7 224.9,308.7 225.4,308.8 226,308.8 226.6,308.9 227.2,308.9 227.8,308.9 228.3,309 228.9,309 229.5,309 230.1,309.1 230.7,309.1 231.3,309.2 231.8,309.2 232.4,309.2 233,309.3" fill="none" stroke="#000" stroke-width="1.3" stroke-linejoin="round" stroke-dasharray="4.2 3.2"/>
<polyline points="41.5,288.9 42.1,289 42.7,289.1 43.2,289.2 43.8,289.3 44.4,289.3 45,289.4 45.6,289.5 46.2,289.6 46.7,289.7 47.3,289.8 47.9,289.9 48.5,289.9 49.1,290 49.6,290.1 50.2,290.2 50.8,290.3 51.4,290.3 52,290.4 52.6,290.5 53.1,290.6 53.7,290.6 54.3,290.7 54.9,290.8 55.5,290.8 56.1,290.9 56.6,291 57.2,291 57.8,291.1 58.4,291.2 59,291.2 59.5,291.3 60.1,291.3 60.7,291.4 61.3,291.5 61.9,291.5 62.5,291.6 63,291.6 63.6,291.7 64.2,291.7 64.8,291.8 65.4,291.8 65.9,291.9 66.5,291.9 67.1,292 67.7,292 68.3,292.1 68.9,292.1 69.4,292.2 70,292.2 70.6,292.3 71.2,292.3 71.8,292.4 72.3,292.4 72.9,292.5 73.5,292.5 74.1,292.6 74.7,292.6 75.3,292.7 75.8,292.8 76.4,292.8 77,292.9 77.6,292.9 78.2,293 78.8,293 79.3,293.1 79.9,293.2 80.5,293.2 81.1,293.3 81.7,293.3 82.2,293.4 82.8,293.4 83.4,293.5 84,293.5 84.6,293.6 85.2,293.6 85.7,293.7 86.3,293.7 86.9,293.8 87.5,293.8 88.1,293.9 88.6,293.9 89.2,294 89.8,294 90.4,294 91,294.1 91.6,294.1 92.1,294.2 92.7,294.2 93.3,294.2 93.9,294.3 94.5,294.3 95.1,294.3 95.6,294.4 96.2,294.4 96.8,294.4 97.4,294.5 98,294.5 98.5,294.5 99.1,294.6 99.7,294.6 100.3,294.6 100.9,294.7 101.5,294.7 102,294.7 102.6,294.7 103.2,294.8 103.8,294.8 104.4,294.8 104.9,294.8 105.5,294.9 106.1,294.9 106.7,294.9 107.3,294.9 107.9,294.9 108.4,295 109,295 109.6,295 110.2,295 110.8,295 111.3,295 111.9,295 112.5,295.1 113.1,295.1 113.7,295.1 114.3,295.1 114.8,295.1 115.4,295.1 116,295.1 116.6,295.2 117.2,295.2 117.8,295.2 118.3,295.2 118.9,295.2 119.5,295.2 120.1,295.3 120.7,295.3 121.2,295.3 121.8,295.3 122.4,295.3 123,295.3 123.6,295.4 124.2,295.4 124.7,295.4 125.3,295.4 125.9,295.4 126.5,295.4 127.1,295.4 127.6,295.5 128.2,295.5 128.8,295.5 129.4,295.5 130,295.5 130.6,295.6 131.1,295.6 131.7,295.6 132.3,295.6 132.9,295.6 133.5,295.6 134,295.7 134.6,295.7 135.2,295.7 135.8,295.7 136.4,295.8 137,295.8 137.5,295.8 138.1,295.8 138.7,295.9 139.3,295.9 139.9,295.9 140.5,296 141,296 141.6,296 142.2,296.1 142.8,296.1 143.4,296.1 143.9,296.2 144.5,296.2 145.1,296.3 145.7,296.3 146.3,296.4 146.9,296.4 147.4,296.4 148,296.5 148.6,296.5 149.2,296.6 149.8,296.6 150.3,296.7 150.9,296.7 151.5,296.8 152.1,296.8 152.7,296.9 153.3,296.9 153.8,297 154.4,297 155,297.1 155.6,297.1 156.2,297.2 156.7,297.2 157.3,297.3 157.9,297.3 158.5,297.4 159.1,297.4 159.7,297.5 160.2,297.5 160.8,297.6 161.4,297.6 162,297.7 162.6,297.7 163.2,297.8 163.7,297.8 164.3,297.9 164.9,297.9 165.5,298 166.1,298.1 166.6,298.1 167.2,298.2 167.8,298.2 168.4,298.3 169,298.3 169.6,298.4 170.1,298.4 170.7,298.5 171.3,298.5 171.9,298.6 172.5,298.6 173,298.7 173.6,298.7 174.2,298.8 174.8,298.8 175.4,298.9 176,298.9 176.5,299 177.1,299 177.7,299.1 178.3,299.2 178.9,299.2 179.4,299.3 180,299.3 180.6,299.4 181.2,299.4 181.8,299.5 182.4,299.5 182.9,299.6 183.5,299.6 184.1,299.7 184.7,299.8 185.3,299.8 185.9,299.9 186.4,299.9 187,300 187.6,300.1 188.2,300.1 188.8,300.2 189.3,300.3 189.9,300.3 190.5,300.4 191.1,300.5 191.7,300.6 192.3,300.6 192.8,300.7 193.4,300.8 194,300.8 194.6,300.9 195.2,301 195.7,301.1 196.3,301.1 196.9,301.2 197.5,301.3 198.1,301.3 198.7,301.4 199.2,301.4 199.8,301.5 200.4,301.6 201,301.6 201.6,301.7 202.2,301.7 202.7,301.8 203.3,301.8 203.9,301.8 204.5,301.9 205.1,301.9 205.6,302 206.2,302 206.8,302.1 207.4,302.1 208,302.1 208.6,302.2 209.1,302.2 209.7,302.3 210.3,302.3 210.9,302.3 211.5,302.4 212,302.4 212.6,302.4 213.2,302.5 213.8,302.5 214.4,302.5 215,302.6 215.5,302.6 216.1,302.7 216.7,302.7 217.3,302.7 217.9,302.8 218.4,302.8 219,302.8 219.6,302.9 220.2,302.9 220.8,302.9 221.4,303 221.9,303 222.5,303 223.1,303.1 223.7,303.1 224.3,303.1 224.9,303.2 225.4,303.2 226,303.2 226.6,303.3 227.2,303.3 227.8,303.3 228.3,303.3 228.9,303.4 229.5,303.4 230.1,303.4 230.7,303.5 231.3,303.5 231.8,303.5 232.4,303.6 233,303.6" fill="none" stroke="#ff0000" stroke-width="1.3" stroke-linejoin="round" stroke-dasharray="4.2 3.2"/>
</g>
<path d="M41.5 366v-2M41.5 220.5v2M73.4 366v-2M73.4 220.5v2M105.3 366v-2M105.3 220.5v2M137.2 366v-2M137.2 220.5v2M169.2 366v-2M169.2 220.5v2M201.1 366v-2M201.1 220.5v2M233 366v-2M233 220.5v2M41.5 220.5h2M233 220.5h-2M41.5 256.9h2M233 256.9h-2M41.5 293.2h2M233 293.2h-2M41.5 329.6h2M233 329.6h-2M41.5 366h2M233 366h-2" stroke="#9a9a9a" stroke-width="0.8" fill="none"/>
<rect x="41.5" y="220.5" width="191.5" height="145.5" fill="none" stroke="#b4b4b4" stroke-width="1.3"/>
<text x="41.5" y="378.4" text-anchor="middle">3</text>
<text x="73.4" y="378.4" text-anchor="middle">4</text>
<text x="105.3" y="378.4" text-anchor="middle">5</text>
<text x="137.2" y="378.4" text-anchor="middle">6</text>
<text x="169.2" y="378.4" text-anchor="middle">7</text>
<text x="201.1" y="378.4" text-anchor="middle">8</text>
<text x="233" y="378.4" text-anchor="middle">9</text>
<text x="38.4" y="224.4" text-anchor="end">1</text>
<text x="38.4" y="260.7" text-anchor="end">0.5</text>
<text x="38.4" y="297.1" text-anchor="end">0</text>
<text x="38.4" y="333.5" text-anchor="end">-0.5</text>
<text x="38.4" y="369.9" text-anchor="end">-1</text>
<text x="137.3" y="389" text-anchor="middle" font-size="9.3">Freq(GHz)</text>
<text transform="translate(20.4 293.3) rotate(-90)" text-anchor="middle" font-size="9.3">Amplitude Imbalance(dB)</text>
<rect x="121.8" y="221.3" width="102.9" height="41" fill="#fff" stroke="#b4b4b4" stroke-width="1"/>
<path d="M123.9 227.6H136.6" stroke="#000" stroke-width="1.5"/>
<text x="137.9" y="230.2" font-size="7.45">[dB(S31)-dB(S51)]-MEAS</text>
<path d="M123.9 237.3H136.6" stroke="#ff0000" stroke-width="1.5"/>
<text x="137.9" y="239.9" font-size="7.45">[dB(S42)-dB(S62)]-MEAS</text>
<path d="M123.9 247.1H136.6" stroke="#000" stroke-width="1.5" stroke-dasharray="4.2 4.4"/>
<text x="137.9" y="249.7" font-size="7.45">[dB(S31)-dB(S51)]-SIM</text>
<path d="M123.9 256.8H136.6" stroke="#ff0000" stroke-width="1.5" stroke-dasharray="4.2 4.4"/>
<text x="137.9" y="259.4" font-size="7.45">[dB(S42)-dB(S62)]-SIM</text>
</g>
<g font-family="'Liberation Sans', Arial, Helvetica, sans-serif" font-size="8.3" fill="#262626" stroke="#262626" stroke-width="0.15">
<path d="M374.2 220.5V369.7M406.9 220.5V369.7M439.6 220.5V369.7M472.2 220.5V369.7M504.9 220.5V369.7M341.6 257.8H537.5M341.6 295.1H537.5M341.6 332.4H537.5" stroke="#ececec" stroke-width="1" fill="none"/>
<clipPath id="cd"><rect x="341.6" y="220.5" width="195.9" height="149.2"/></clipPath>
<g clip-path="url(#cd)">
<polyline points="341.6,429.7 342.1,425.4 342.6,409.1 343.2,407.8 343.7,403 344.2,404.6 344.7,401.6 345.2,399.5 345.7,393 346.3,397.4 346.8,391.8 347.3,389.6 347.8,383.7 348.3,389.1 348.8,390 349.4,386.6 349.9,382.8 350.4,368.9 350.9,369.3 351.4,366.8 351.9,370.2 352.5,374.3 353,366.4 353.5,358.1 354,362.6 354.5,359.1 355,362 355.6,364.3 356.1,355 356.6,355.9 357.1,356.7 357.6,356.7 358.1,347.9 358.7,352.5 359.2,346.7 359.7,350.2 360.2,340.6 360.7,345.1 361.2,341.9 361.8,333.2 362.3,335 362.8,333.2 363.3,338 363.8,328.8 364.3,334.4 364.9,323.7 365.4,323.8 365.9,326.1 366.4,322.2 366.9,325.3 367.4,321.3 368,329.2 368.5,315.5 369,317.3 369.5,325.9 370,323.5 370.5,317.8 371.1,314.3 371.6,322.1 372.1,309.9 372.6,317.7 373.1,308 373.6,310.5 374.2,313.3 374.7,314.2 375.2,316.9 375.7,316.2 376.2,308.4 376.7,305.9 377.3,303.5 377.8,309.6 378.3,301.8 378.8,309 379.3,300.6 379.8,300.2 380.4,308.5 380.9,299.6 381.4,300.8 381.9,300.1 382.4,297.9 383,300.6 383.5,300.2 384,301 384.5,295 385,294 385.5,300.9 386.1,294 386.6,298.3 387.1,298.4 387.6,297.6 388.1,293.3 388.6,295.4 389.2,295.1 389.7,295.7 390.2,293 390.7,288.3 391.2,294.3 391.7,289.6 392.3,288 392.8,292.1 393.3,289.4 393.8,283.6 394.3,282.3 394.8,282.9 395.4,287.9 395.9,282.5 396.4,284.5 396.9,286.1 397.4,283.1 397.9,279.1 398.5,279 399,282.1 399.5,284.1 400,277.3 400.5,276.1 401,279 401.6,280.6 402.1,277.7 402.6,276.1 403.1,277.1 403.6,277.5 404.1,277.8 404.7,277 405.2,278.3 405.7,276.6 406.2,271.5 406.7,277.7 407.2,272.6 407.8,272 408.3,274.3 408.8,272.8 409.3,275.1 409.8,272 410.3,271.5 410.9,271.2 411.4,272.6 411.9,269.4 412.4,269.9 412.9,271.6 413.4,270.8 414,273.2 414.5,268.9 415,270.6 415.5,269 416,272.6 416.5,268.2 417.1,273.5 417.6,270.8 418.1,273.2 418.6,272.6 419.1,269 419.6,273.1 420.2,271.1 420.7,272.1 421.2,268.1 421.7,272.5 422.2,270.9 422.8,267.8 423.3,268.7 423.8,268.5 424.3,266.8 424.8,272.3 425.3,268.6 425.9,268.1 426.4,268 426.9,268.2 427.4,271.8 427.9,271.7 428.4,267.8 429,268.7 429.5,270.7 430,272.2 430.5,269.3 431,271.8 431.5,268.2 432.1,270.5 432.6,267.9 433.1,271.9 433.6,269.8 434.1,272 434.6,268.4 435.2,269.7 435.7,271.5 436.2,267.7 436.7,269.3 437.2,271.2 437.7,268.5 438.3,271.1 438.8,268.3 439.3,271.8 439.8,268.3 440.3,273.3 440.8,269.9 441.4,272.4 441.9,271.9 442.4,271 442.9,274.2 443.4,273.5 443.9,274.3 444.5,271.4 445,274.2 445.5,273 446,274.1 446.5,274.8 447,271.6 447.6,273.9 448.1,273.4 448.6,273.3 449.1,273 449.6,275.8 450.1,276.8 450.7,275.2 451.2,276.7 451.7,277.6 452.2,273.7 452.7,275.2 453.2,276.3 453.8,277.7 454.3,275.2 454.8,276.4 455.3,278.1 455.8,274.8 456.3,275.2 456.9,275.5 457.4,276.1 457.9,277.6 458.4,278.7 458.9,277.5 459.5,279.8 460,278.1 460.5,280.6 461,281.1 461.5,278.5 462,280.3 462.6,279.1 463.1,279.1 463.6,279.2 464.1,280.3 464.6,279.7 465.1,280.8 465.7,280.1 466.2,280.5 466.7,284.1 467.2,283.6 467.7,283.5 468.2,284.3 468.8,284.9 469.3,282.7 469.8,286.2 470.3,286 470.8,284.2 471.3,286.6 471.9,286.9 472.4,284.6 472.9,285.8 473.4,287.4 473.9,288.9 474.4,288.9 475,286.6 475.5,287.8 476,290.9 476.5,289.1 477,290.8 477.5,290 478.1,292.1 478.6,293.3 479.1,294.3 479.6,293.8 480.1,292.3 480.6,292.8 481.2,294.2 481.7,294.5 482.2,297.2 482.7,297.2 483.2,295.8 483.7,296.1 484.3,298.8 484.8,298.2 485.3,298.2 485.8,298.6 486.3,301.8 486.8,301 487.4,302.6 487.9,302.9 488.4,303.5 488.9,304.7 489.4,306.3 489.9,304 490.5,304.8 491,304.8 491.5,307.9 492,308.1 492.5,307.3 493,306.5 493.6,308.7 494.1,310.2 494.6,309.3 495.1,308.4 495.6,309.3 496.1,309.7 496.7,312 497.2,313 497.7,311.3 498.2,312.1 498.7,312.3 499.3,314.6 499.8,315.5 500.3,316.2 500.8,314.3 501.3,314.7 501.8,317.3 502.4,315.9 502.9,318.3 503.4,318.6 503.9,318.7 504.4,320.5 504.9,320.9 505.5,321.5 506,322.1 506.5,321.7 507,323.8 507.5,321.8 508,324.6 508.6,324.2 509.1,324 509.6,326.5 510.1,326.1 510.6,326.1 511.1,326.7 511.7,326 512.2,327 512.7,330.1 513.2,328.1 513.7,329.7 514.2,329.9 514.8,332.4 515.3,331.9 515.8,331.7 516.3,332 516.8,332.6 517.3,335.4 517.9,333.8 518.4,335.5 518.9,335.8 519.4,335.8 519.9,338.2 520.4,337 521,337.8 521.5,338.8 522,341.2 522.5,341.4 523,343.4 523.5,342 524.1,342.3 524.6,345.8 525.1,344.4 525.6,345.4 526.1,348.7 526.6,346.3 527.2,348.8 527.7,350.4 528.2,352.2 528.7,350.2 529.2,352.8 529.7,353.1 530.3,355.3 530.8,354.7 531.3,356.5 531.8,356 532.3,357.6 532.8,358.4 533.4,361.2 533.9,363 534.4,361 534.9,361.8 535.4,363.9 535.9,363.8 536.5,365.6 537,366.9 537.5,368.5" fill="none" stroke="#000" stroke-width="1.3" stroke-linejoin="round"/>
<polyline points="341.6,297.3 342.1,296.9 342.6,297.5 343.2,296.9 343.7,296.7 344.2,297.7 344.7,296.8 345.2,297 345.7,296.1 346.3,295.6 346.8,296 347.3,295.8 347.8,295.8 348.3,296.6 348.8,296.3 349.4,295.1 349.9,294.8 350.4,296.5 350.9,296.9 351.4,294.5 351.9,294.7 352.5,295.2 353,294.6 353.5,295.1 354,294.3 354.5,295.8 355,295.3 355.6,294.6 356.1,295.7 356.6,294.4 357.1,295.4 357.6,294.3 358.1,294 358.7,294.8 359.2,293.4 359.7,294.2 360.2,293.8 360.7,295.5 361.2,295.2 361.8,293.7 362.3,293 362.8,293.7 363.3,292.9 363.8,294.9 364.3,292.8 364.9,292.8 365.4,293.3 365.9,293.7 366.4,293 366.9,294 367.4,293 368,292.8 368.5,293.1 369,293.8 369.5,294.3 370,293.8 370.5,292.2 371.1,293.7 371.6,294 372.1,293.5 372.6,292.8 373.1,292.6 373.6,291.9 374.2,291.9 374.7,291.6 375.2,291.8 375.7,292.8 376.2,293.5 376.7,291.5 377.3,293.2 377.8,292.2 378.3,293 378.8,291.7 379.3,293.1 379.8,292.6 380.4,293 380.9,291.4 381.4,292 381.9,291.9 382.4,292.7 383,293 383.5,291.3 384,291.5 384.5,291.5 385,290.9 385.5,291.9 386.1,292.8 386.6,291.7 387.1,292.5 387.6,291.9 388.1,292 388.6,291.7 389.2,290.9 389.7,291.1 390.2,292 390.7,291 391.2,290.9 391.7,291.1 392.3,291.6 392.8,290.7 393.3,291.7 393.8,292.6 394.3,292.2 394.8,291.2 395.4,291.9 395.9,291.7 396.4,291.8 396.9,292.2 397.4,292.4 397.9,292.5 398.5,291 399,291.8 399.5,291.5 400,290.3 400.5,291 401,290.6 401.6,290.6 402.1,290.2 402.6,292.3 403.1,291.5 403.6,290.1 404.1,291.2 404.7,290 405.2,291.8 405.7,292.1 406.2,290.1 406.7,291.2 407.2,291 407.8,289.9 408.3,291.6 408.8,289.8 409.3,291.1 409.8,291.4 410.3,291.4 410.9,290.7 411.4,290.8 411.9,289.8 412.4,291.8 412.9,291.8 413.4,291.5 414,290.4 414.5,289.9 415,290.6 415.5,290.2 416,290.2 416.5,291.6 417.1,291 417.6,289.2 418.1,290.8 418.6,289.3 419.1,290.3 419.6,291 420.2,291.5 420.7,290.9 421.2,290.6 421.7,290.3 422.2,290.3 422.8,290 423.3,290.2 423.8,291.2 424.3,290.6 424.8,288.9 425.3,291.1 425.9,289.4 426.4,290 426.9,289.4 427.4,290.3 427.9,290.2 428.4,289.8 429,288.8 429.5,290.2 430,290.7 430.5,290.8 431,288.8 431.5,290.1 432.1,290.5 432.6,289.4 433.1,288.7 433.6,289.3 434.1,290.3 434.6,289.7 435.2,290 435.7,290.6 436.2,288.3 436.7,289.5 437.2,290.2 437.7,288.4 438.3,288.1 438.8,288.5 439.3,289.8 439.8,289.9 440.3,289.1 440.8,289 441.4,288.2 441.9,288 442.4,288.1 442.9,289.4 443.4,288.8 443.9,289.9 444.5,288.9 445,290 445.5,289.8 446,289.8 446.5,289.3 447,289.3 447.6,288.3 448.1,289.8 448.6,289.7 449.1,288.4 449.6,288.3 450.1,288.2 450.7,288.1 451.2,288.2 451.7,288.5 452.2,288 452.7,289.5 453.2,289.2 453.8,287.9 454.3,289.2 454.8,288.4 455.3,289 455.8,288.6 456.3,287.6 456.9,288 457.4,288.5 457.9,288.8 458.4,287.6 458.9,287.9 459.5,288.4 460,287.3 460.5,287.7 461,287 461.5,287.7 462,287.2 462.6,288 463.1,287.6 463.6,287.2 464.1,289 464.6,288.1 465.1,287.7 465.7,289 466.2,287.2 466.7,287.4 467.2,286.8 467.7,288.2 468.2,287.9 468.8,286.8 469.3,288 469.8,287 470.3,287.9 470.8,288.1 471.3,288.2 471.9,288.3 472.4,287.8 472.9,288.4 473.4,286.8 473.9,286.4 474.4,288.5 475,288.6 475.5,288.7 476,286.4 476.5,288.5 477,287 477.5,287.9 478.1,288.1 478.6,287.9 479.1,286.9 479.6,288.4 480.1,286.4 480.6,287.1 481.2,287.9 481.7,287.9 482.2,286.8 482.7,286.8 483.2,287.6 483.7,287.5 484.3,287.2 484.8,286.1 485.3,286.9 485.8,286.2 486.3,286.6 486.8,286.8 487.4,287 487.9,286.5 488.4,286.9 488.9,286.3 489.4,287.6 489.9,287.2 490.5,285.9 491,287 491.5,285.9 492,285.7 492.5,286.5 493,287.6 493.6,286 494.1,286.2 494.6,287.1 495.1,285.7 495.6,286.6 496.1,287.6 496.7,287.5 497.2,287.1 497.7,286.2 498.2,285.7 498.7,287.4 499.3,287.5 499.8,286.1 500.3,286.6 500.8,286.5 501.3,285.5 501.8,285.3 502.4,285.1 502.9,285.6 503.4,287.4 503.9,287 504.4,286 504.9,285.1 505.5,287.1 506,286.1 506.5,286.3 507,286.3 507.5,286.6 508,286.6 508.6,286.6 509.1,286.9 509.6,285.8 510.1,286.1 510.6,285.4 511.1,285.5 511.7,284.8 512.2,286.2 512.7,284.9 513.2,286.1 513.7,285.4 514.2,285 514.8,286 515.3,285.8 515.8,285.4 516.3,286.6 516.8,285.6 517.3,286.6 517.9,286.3 518.4,285.3 518.9,284.4 519.4,284.3 519.9,286.1 520.4,286.3 521,285.4 521.5,285.6 522,285.7 522.5,284.8 523,284.9 523.5,285.2 524.1,285.1 524.6,285.1 525.1,284.9 525.6,284.3 526.1,284.2 526.6,284.1 527.2,284.4 527.7,286.1 528.2,285.3 528.7,284.5 529.2,285.6 529.7,284.9 530.3,286.2 530.8,285.8 531.3,285.3 531.8,286.1 532.3,285.2 532.8,285.6 533.4,284.1 533.9,285.4 534.4,285.2 534.9,284.2 535.4,284.7 535.9,285.9 536.5,285.5 537,284.6 537.5,285.5" fill="none" stroke="#ff0000" stroke-width="1.3" stroke-linejoin="round"/>
<polyline points="341.6,421.9 342.1,418.7 342.6,415.6 343.2,412.5 343.7,409.5 344.2,406.5 344.7,403.6 345.2,400.8 345.7,398.1 346.3,395.4 346.8,392.8 347.3,390.2 347.8,387.8 348.3,385.4 348.8,383 349.4,380.8 349.9,378.6 350.4,376.5 350.9,374.5 351.4,372.6 351.9,370.7 352.5,369 353,367.3 353.5,365.8 354,364.2 354.5,362.7 355,361.3 355.6,359.9 356.1,358.5 356.6,357 357.1,355.6 357.6,354.2 358.1,352.7 358.7,351.1 359.2,349.6 359.7,348 360.2,346.5 360.7,344.9 361.2,343.3 361.8,341.7 362.3,340.1 362.8,338.6 363.3,337.1 363.8,335.6 364.3,334.1 364.9,332.7 365.4,331.3 365.9,329.9 366.4,328.7 366.9,327.4 367.4,326.3 368,325.2 368.5,324.2 369,323.2 369.5,322.2 370,321.3 370.5,320.4 371.1,319.5 371.6,318.7 372.1,317.9 372.6,317.1 373.1,316.3 373.6,315.4 374.2,314.6 374.7,313.8 375.2,313 375.7,312.2 376.2,311.4 376.7,310.6 377.3,309.9 377.8,309.1 378.3,308.4 378.8,307.6 379.3,306.9 379.8,306.1 380.4,305.4 380.9,304.6 381.4,303.9 381.9,303.2 382.4,302.4 383,301.7 383.5,301 384,300.2 384.5,299.5 385,298.8 385.5,298.1 386.1,297.3 386.6,296.6 387.1,295.9 387.6,295.2 388.1,294.5 388.6,293.8 389.2,293.2 389.7,292.5 390.2,291.8 390.7,291.2 391.2,290.6 391.7,290 392.3,289.3 392.8,288.7 393.3,288.1 393.8,287.5 394.3,286.9 394.8,286.3 395.4,285.7 395.9,285.2 396.4,284.6 396.9,284 397.4,283.5 397.9,282.9 398.5,282.4 399,281.9 399.5,281.4 400,280.9 400.5,280.4 401,279.9 401.6,279.5 402.1,279 402.6,278.5 403.1,278 403.6,277.6 404.1,277.1 404.7,276.7 405.2,276.2 405.7,275.8 406.2,275.4 406.7,275 407.2,274.6 407.8,274.2 408.3,273.9 408.8,273.5 409.3,273.2 409.8,272.9 410.3,272.6 410.9,272.3 411.4,272.1 411.9,271.8 412.4,271.6 412.9,271.3 413.4,271.1 414,270.8 414.5,270.6 415,270.4 415.5,270.2 416,270 416.5,269.8 417.1,269.6 417.6,269.4 418.1,269.2 418.6,269 419.1,268.9 419.6,268.7 420.2,268.6 420.7,268.4 421.2,268.2 421.7,268.1 422.2,267.9 422.8,267.8 423.3,267.6 423.8,267.5 424.3,267.4 424.8,267.2 425.3,267.1 425.9,267 426.4,266.9 426.9,266.8 427.4,266.7 427.9,266.6 428.4,266.5 429,266.5 429.5,266.4 430,266.4 430.5,266.3 431,266.3 431.5,266.3 432.1,266.2 432.6,266.2 433.1,266.2 433.6,266.1 434.1,266.1 434.6,266.1 435.2,266.1 435.7,266 436.2,266 436.7,266 437.2,266 437.7,266 438.3,266 438.8,266 439.3,266.1 439.8,266.1 440.3,266.2 440.8,266.3 441.4,266.4 441.9,266.6 442.4,266.7 442.9,266.9 443.4,267 443.9,267.2 444.5,267.4 445,267.6 445.5,267.8 446,268 446.5,268.2 447,268.3 447.6,268.5 448.1,268.7 448.6,268.8 449.1,269 449.6,269.1 450.1,269.3 450.7,269.5 451.2,269.6 451.7,269.8 452.2,269.9 452.7,270.1 453.2,270.3 453.8,270.5 454.3,270.6 454.8,270.8 455.3,271 455.8,271.2 456.3,271.4 456.9,271.6 457.4,271.8 457.9,272.1 458.4,272.3 458.9,272.5 459.5,272.8 460,273 460.5,273.2 461,273.5 461.5,273.8 462,274 462.6,274.3 463.1,274.6 463.6,274.9 464.1,275.2 464.6,275.5 465.1,275.8 465.7,276.1 466.2,276.4 466.7,276.8 467.2,277.1 467.7,277.5 468.2,277.9 468.8,278.3 469.3,278.7 469.8,279.1 470.3,279.5 470.8,279.9 471.3,280.3 471.9,280.8 472.4,281.2 472.9,281.7 473.4,282.1 473.9,282.6 474.4,283 475,283.5 475.5,283.9 476,284.4 476.5,284.8 477,285.3 477.5,285.8 478.1,286.3 478.6,286.8 479.1,287.3 479.6,287.8 480.1,288.3 480.6,288.9 481.2,289.4 481.7,289.9 482.2,290.5 482.7,291 483.2,291.6 483.7,292.1 484.3,292.7 484.8,293.2 485.3,293.8 485.8,294.3 486.3,294.9 486.8,295.4 487.4,296 487.9,296.5 488.4,297.1 488.9,297.6 489.4,298.2 489.9,298.7 490.5,299.3 491,299.8 491.5,300.3 492,300.8 492.5,301.4 493,301.9 493.6,302.4 494.1,302.9 494.6,303.5 495.1,304 495.6,304.5 496.1,305 496.7,305.5 497.2,306.1 497.7,306.6 498.2,307.1 498.7,307.6 499.3,308.1 499.8,308.7 500.3,309.2 500.8,309.7 501.3,310.2 501.8,310.7 502.4,311.3 502.9,311.8 503.4,312.3 503.9,312.8 504.4,313.3 504.9,313.8 505.5,314.3 506,314.8 506.5,315.3 507,315.8 507.5,316.3 508,316.7 508.6,317.2 509.1,317.7 509.6,318.1 510.1,318.6 510.6,319 511.1,319.5 511.7,319.9 512.2,320.4 512.7,320.8 513.2,321.3 513.7,321.8 514.2,322.3 514.8,322.7 515.3,323.2 515.8,323.7 516.3,324.3 516.8,324.8 517.3,325.3 517.9,325.9 518.4,326.5 518.9,327 519.4,327.6 519.9,328.3 520.4,328.9 521,329.6 521.5,330.3 522,331 522.5,331.8 523,332.6 523.5,333.5 524.1,334.4 524.6,335.4 525.1,336.4 525.6,337.4 526.1,338.4 526.6,339.5 527.2,340.6 527.7,341.6 528.2,342.7 528.7,343.8 529.2,344.9 529.7,346 530.3,347.1 530.8,348.2 531.3,349.2 531.8,350.3 532.3,351.3 532.8,352.3 533.4,353.3 533.9,354.2 534.4,355.2 534.9,356.1 535.4,357 535.9,358 536.5,358.9 537,359.8 537.5,360.7" fill="none" stroke="#000" stroke-width="1.3" stroke-linejoin="round" stroke-dasharray="4.2 3.2"/>
<polyline points="341.6,290 342.1,290 342.6,290 343.2,290 343.7,289.9 344.2,289.9 344.7,289.9 345.2,289.8 345.7,289.8 346.3,289.8 346.8,289.8 347.3,289.7 347.8,289.7 348.3,289.7 348.8,289.7 349.4,289.6 349.9,289.6 350.4,289.6 350.9,289.6 351.4,289.5 351.9,289.5 352.5,289.5 353,289.5 353.5,289.4 354,289.4 354.5,289.4 355,289.3 355.6,289.3 356.1,289.3 356.6,289.3 357.1,289.2 357.6,289.2 358.1,289.2 358.7,289.2 359.2,289.1 359.7,289.1 360.2,289.1 360.7,289 361.2,289 361.8,289 362.3,289 362.8,288.9 363.3,288.9 363.8,288.9 364.3,288.9 364.9,288.8 365.4,288.8 365.9,288.8 366.4,288.7 366.9,288.7 367.4,288.7 368,288.7 368.5,288.6 369,288.6 369.5,288.6 370,288.5 370.5,288.5 371.1,288.5 371.6,288.4 372.1,288.4 372.6,288.4 373.1,288.4 373.6,288.3 374.2,288.3 374.7,288.3 375.2,288.2 375.7,288.2 376.2,288.2 376.7,288.2 377.3,288.1 377.8,288.1 378.3,288.1 378.8,288 379.3,288 379.8,288 380.4,288 380.9,287.9 381.4,287.9 381.9,287.9 382.4,287.8 383,287.8 383.5,287.8 384,287.8 384.5,287.7 385,287.7 385.5,287.7 386.1,287.6 386.6,287.6 387.1,287.6 387.6,287.6 388.1,287.5 388.6,287.5 389.2,287.5 389.7,287.4 390.2,287.4 390.7,287.4 391.2,287.4 391.7,287.3 392.3,287.3 392.8,287.3 393.3,287.2 393.8,287.2 394.3,287.2 394.8,287.1 395.4,287.1 395.9,287.1 396.4,287.1 396.9,287 397.4,287 397.9,287 398.5,286.9 399,286.9 399.5,286.9 400,286.8 400.5,286.8 401,286.8 401.6,286.7 402.1,286.7 402.6,286.7 403.1,286.6 403.6,286.6 404.1,286.6 404.7,286.5 405.2,286.5 405.7,286.5 406.2,286.4 406.7,286.4 407.2,286.4 407.8,286.3 408.3,286.3 408.8,286.3 409.3,286.2 409.8,286.2 410.3,286.1 410.9,286.1 411.4,286.1 411.9,286 412.4,286 412.9,286 413.4,285.9 414,285.9 414.5,285.8 415,285.8 415.5,285.8 416,285.7 416.5,285.7 417.1,285.6 417.6,285.6 418.1,285.6 418.6,285.5 419.1,285.5 419.6,285.4 420.2,285.4 420.7,285.3 421.2,285.3 421.7,285.2 422.2,285.2 422.8,285.2 423.3,285.1 423.8,285.1 424.3,285 424.8,284.9 425.3,284.9 425.9,284.8 426.4,284.8 426.9,284.7 427.4,284.7 427.9,284.6 428.4,284.6 429,284.5 429.5,284.4 430,284.4 430.5,284.3 431,284.3 431.5,284.2 432.1,284.1 432.6,284.1 433.1,284 433.6,284 434.1,283.9 434.6,283.8 435.2,283.8 435.7,283.7 436.2,283.6 436.7,283.6 437.2,283.5 437.7,283.4 438.3,283.4 438.8,283.3 439.3,283.2 439.8,283.2 440.3,283.1 440.8,283 441.4,283 441.9,282.9 442.4,282.8 442.9,282.8 443.4,282.7 443.9,282.6 444.5,282.6 445,282.5 445.5,282.4 446,282.4 446.5,282.3 447,282.3 447.6,282.2 448.1,282.1 448.6,282.1 449.1,282 449.6,281.9 450.1,281.9 450.7,281.8 451.2,281.8 451.7,281.7 452.2,281.6 452.7,281.6 453.2,281.5 453.8,281.4 454.3,281.4 454.8,281.3 455.3,281.2 455.8,281.2 456.3,281.1 456.9,281 457.4,281 457.9,280.9 458.4,280.8 458.9,280.8 459.5,280.7 460,280.6 460.5,280.6 461,280.5 461.5,280.4 462,280.4 462.6,280.3 463.1,280.3 463.6,280.2 464.1,280.1 464.6,280.1 465.1,280 465.7,279.9 466.2,279.9 466.7,279.8 467.2,279.8 467.7,279.7 468.2,279.6 468.8,279.6 469.3,279.5 469.8,279.5 470.3,279.4 470.8,279.4 471.3,279.3 471.9,279.2 472.4,279.2 472.9,279.1 473.4,279.1 473.9,279 474.4,279 475,278.9 475.5,278.9 476,278.8 476.5,278.8 477,278.7 477.5,278.7 478.1,278.6 478.6,278.6 479.1,278.5 479.6,278.5 480.1,278.5 480.6,278.4 481.2,278.4 481.7,278.3 482.2,278.3 482.7,278.2 483.2,278.2 483.7,278.1 484.3,278.1 484.8,278 485.3,278 485.8,278 486.3,277.9 486.8,277.9 487.4,277.8 487.9,277.8 488.4,277.7 488.9,277.7 489.4,277.7 489.9,277.6 490.5,277.6 491,277.5 491.5,277.5 492,277.4 492.5,277.4 493,277.4 493.6,277.3 494.1,277.3 494.6,277.2 495.1,277.2 495.6,277.2 496.1,277.1 496.7,277.1 497.2,277 497.7,277 498.2,277 498.7,276.9 499.3,276.9 499.8,276.8 500.3,276.8 500.8,276.8 501.3,276.7 501.8,276.7 502.4,276.6 502.9,276.6 503.4,276.6 503.9,276.5 504.4,276.5 504.9,276.4 505.5,276.4 506,276.4 506.5,276.3 507,276.3 507.5,276.2 508,276.2 508.6,276.2 509.1,276.1 509.6,276.1 510.1,276.1 510.6,276 511.1,276 511.7,275.9 512.2,275.9 512.7,275.9 513.2,275.8 513.7,275.8 514.2,275.8 514.8,275.7 515.3,275.7 515.8,275.6 516.3,275.6 516.8,275.6 517.3,275.5 517.9,275.5 518.4,275.5 518.9,275.4 519.4,275.4 519.9,275.4 520.4,275.3 521,275.3 521.5,275.2 522,275.2 522.5,275.2 523,275.1 523.5,275.1 524.1,275.1 524.6,275 525.1,275 525.6,275 526.1,274.9 526.6,274.9 527.2,274.9 527.7,274.8 528.2,274.8 528.7,274.8 529.2,274.7 529.7,274.7 530.3,274.7 530.8,274.6 531.3,274.6 531.8,274.6 532.3,274.5 532.8,274.5 533.4,274.5 533.9,274.4 534.4,274.4 534.9,274.4 535.4,274.3 535.9,274.3 536.5,274.3 537,274.2 537.5,274.2" fill="none" stroke="#ff0000" stroke-width="1.3" stroke-linejoin="round" stroke-dasharray="4.2 3.2"/>
</g>
<path d="M341.6 369.7v-2M341.6 220.5v2M374.2 369.7v-2M374.2 220.5v2M406.9 369.7v-2M406.9 220.5v2M439.6 369.7v-2M439.6 220.5v2M472.2 369.7v-2M472.2 220.5v2M504.9 369.7v-2M504.9 220.5v2M537.5 369.7v-2M537.5 220.5v2M341.6 220.5h2M537.5 220.5h-2M341.6 257.8h2M537.5 257.8h-2M341.6 295.1h2M537.5 295.1h-2M341.6 332.4h2M537.5 332.4h-2M341.6 369.7h2M537.5 369.7h-2" stroke="#9a9a9a" stroke-width="0.8" fill="none"/>
<rect x="341.6" y="220.5" width="195.9" height="149.2" fill="none" stroke="#b4b4b4" stroke-width="1.3"/>
<text x="341.6" y="382.1" text-anchor="middle">3</text>
<text x="374.2" y="382.1" text-anchor="middle">4</text>
<text x="406.9" y="382.1" text-anchor="middle">5</text>
<text x="439.6" y="382.1" text-anchor="middle">6</text>
<text x="472.2" y="382.1" text-anchor="middle">7</text>
<text x="504.9" y="382.1" text-anchor="middle">8</text>
<text x="537.5" y="382.1" text-anchor="middle">9</text>
<text x="338.5" y="224.4" text-anchor="end">10</text>
<text x="338.5" y="261.7" text-anchor="end">5</text>
<text x="338.5" y="299" text-anchor="end">0</text>
<text x="338.5" y="336.3" text-anchor="end">-5</text>
<text x="338.5" y="373.6" text-anchor="end">-10</text>
<text x="439.6" y="393.3" text-anchor="middle" font-size="9.6">Freq(GHz)</text>
<text transform="translate(323 294.8) rotate(-90)" text-anchor="middle" font-size="9.6">Phase Imbalance(deg)</text>
<rect x="394.5" y="304.5" width="88" height="52.8" fill="#fff" stroke="#b4b4b4" stroke-width="1"/>
<path d="M397.3 311.7H410.4" stroke="#000" stroke-width="1.5"/>
<text x="411.6" y="313.7" font-size="7.45"><tspan y="313.7">[</tspan><tspan y="314.1" font-style="italic" font-family="'Liberation Serif', 'Times New Roman', serif" font-size="7.8">&#952;</tspan><tspan y="318.7" font-size="6.4">31</tspan><tspan y="313.7">-</tspan><tspan y="314.1" font-style="italic" font-family="'Liberation Serif', 'Times New Roman', serif" font-size="7.8">&#952;</tspan><tspan y="318.7" font-size="6.4">51</tspan><tspan y="313.7">+90&#176;]-MEAS</tspan></text>
<path d="M397.3 324.9H410.4" stroke="#ff0000" stroke-width="1.5"/>
<text x="411.6" y="326.9" font-size="7.45"><tspan y="326.9">[</tspan><tspan y="327.3" font-style="italic" font-family="'Liberation Serif', 'Times New Roman', serif" font-size="7.8">&#952;</tspan><tspan y="331.9" font-size="6.4">42</tspan><tspan y="326.9">-</tspan><tspan y="327.3" font-style="italic" font-family="'Liberation Serif', 'Times New Roman', serif" font-size="7.8">&#952;</tspan><tspan y="331.9" font-size="6.4">62</tspan><tspan y="326.9">]-MEAS</tspan></text>
<path d="M397.3 338.2H410.4" stroke="#000" stroke-width="1.5" stroke-dasharray="4.2 4.4"/>
<text x="411.6" y="340.2" font-size="7.45"><tspan y="340.2">[</tspan><tspan y="340.6" font-style="italic" font-family="'Liberation Serif', 'Times New Roman', serif" font-size="7.8">&#952;</tspan><tspan y="345.2" font-size="6.4">31</tspan><tspan y="340.2">-</tspan><tspan y="340.6" font-style="italic" font-family="'Liberation Serif', 'Times New Roman', serif" font-size="7.8">&#952;</tspan><tspan y="345.2" font-size="6.4">51</tspan><tspan y="340.2">+90&#176;]-SIM</tspan></text>
<path d="M397.3 351.4H410.4" stroke="#ff0000" stroke-width="1.5" stroke-dasharray="4.2 4.4"/>
<text x="411.6" y="353.4" font-size="7.45"><tspan y="353.4">[</tspan><tspan y="353.8" font-style="italic" font-family="'Liberation Serif', 'Times New Roman', serif" font-size="7.8">&#952;</tspan><tspan y="358.4" font-size="6.4">42</tspan><tspan y="353.4">-</tspan><tspan y="353.8" font-style="italic" font-family="'Liberation Serif', 'Times New Roman', serif" font-size="7.8">&#952;</tspan><tspan y="358.4" font-size="6.4">62</tspan><tspan y="353.4">]-SIM</tspan></text>
</g>
<g font-family="'Liberation Serif', 'Times New Roman', serif" font-weight="bold" font-size="11.5" fill="#111" text-anchor="middle">
<text x="125.5" y="205.3">(a)</text>
<text x="431.6" y="205.3">(b)</text>
<text x="125.5" y="412.1">(c)</text>
<text x="431.4" y="411.9">(d)</text>
</g>
</svg>
</body></html>
